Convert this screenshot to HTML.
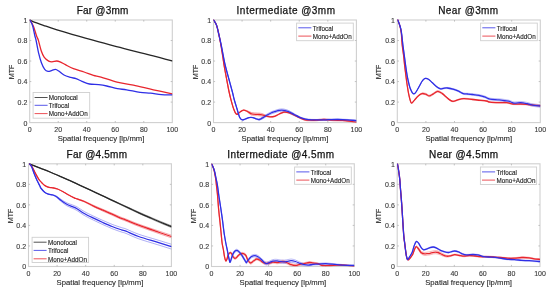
<!DOCTYPE html>
<html><head><meta charset="utf-8"><title>MTF</title>
<style>
html,body{margin:0;padding:0;background:#fff;width:550px;height:292px;overflow:hidden}
svg{display:block}
.tk{font-family:"Liberation Sans", Arial, sans-serif;font-size:7px;fill:#3a3a3a;stroke:#3a3a3a;stroke-width:0.12px}
.al{font-family:"Liberation Sans", Arial, sans-serif;font-size:7.7px;fill:#2a2a2a;stroke:#2a2a2a;stroke-width:0.12px}
.lg{font-family:"Liberation Sans", Arial, sans-serif;font-size:6.3px;fill:#1e1e1e;stroke:#1e1e1e;stroke-width:0.12px}
.ti{font-family:"Liberation Sans", Arial, sans-serif;font-size:10.0px;fill:#111;stroke:#111;stroke-width:0.25px}
</style></head><body>
<svg width="550" height="292" viewBox="0 0 550 292">
<rect width="550" height="292" fill="#fff"/>
<rect x="29.70" y="20.00" width="142.60" height="102.60" fill="none" stroke="#cfcfcf" stroke-width="1.1"/>
<line x1="58.22" y1="122.60" x2="58.22" y2="121.00" stroke="#b4b4b4" stroke-width="0.8"/>
<line x1="58.22" y1="20.00" x2="58.22" y2="21.60" stroke="#b4b4b4" stroke-width="0.8"/>
<line x1="29.70" y1="102.08" x2="31.30" y2="102.08" stroke="#b4b4b4" stroke-width="0.8"/>
<line x1="172.30" y1="102.08" x2="170.70" y2="102.08" stroke="#b4b4b4" stroke-width="0.8"/>
<line x1="86.74" y1="122.60" x2="86.74" y2="121.00" stroke="#b4b4b4" stroke-width="0.8"/>
<line x1="86.74" y1="20.00" x2="86.74" y2="21.60" stroke="#b4b4b4" stroke-width="0.8"/>
<line x1="29.70" y1="81.56" x2="31.30" y2="81.56" stroke="#b4b4b4" stroke-width="0.8"/>
<line x1="172.30" y1="81.56" x2="170.70" y2="81.56" stroke="#b4b4b4" stroke-width="0.8"/>
<line x1="115.26" y1="122.60" x2="115.26" y2="121.00" stroke="#b4b4b4" stroke-width="0.8"/>
<line x1="115.26" y1="20.00" x2="115.26" y2="21.60" stroke="#b4b4b4" stroke-width="0.8"/>
<line x1="29.70" y1="61.04" x2="31.30" y2="61.04" stroke="#b4b4b4" stroke-width="0.8"/>
<line x1="172.30" y1="61.04" x2="170.70" y2="61.04" stroke="#b4b4b4" stroke-width="0.8"/>
<line x1="143.78" y1="122.60" x2="143.78" y2="121.00" stroke="#b4b4b4" stroke-width="0.8"/>
<line x1="143.78" y1="20.00" x2="143.78" y2="21.60" stroke="#b4b4b4" stroke-width="0.8"/>
<line x1="29.70" y1="40.52" x2="31.30" y2="40.52" stroke="#b4b4b4" stroke-width="0.8"/>
<line x1="172.30" y1="40.52" x2="170.70" y2="40.52" stroke="#b4b4b4" stroke-width="0.8"/>
<text x="27.30" y="125.50" text-anchor="end" class="tk">0</text>
<text x="27.30" y="104.98" text-anchor="end" class="tk">0.2</text>
<text x="27.30" y="84.46" text-anchor="end" class="tk">0.4</text>
<text x="27.30" y="63.94" text-anchor="end" class="tk">0.6</text>
<text x="27.30" y="43.42" text-anchor="end" class="tk">0.8</text>
<text x="27.30" y="22.90" text-anchor="end" class="tk">1</text>
<text x="29.70" y="131.90" text-anchor="middle" class="tk">0</text>
<text x="58.22" y="131.90" text-anchor="middle" class="tk">20</text>
<text x="86.74" y="131.90" text-anchor="middle" class="tk">40</text>
<text x="115.26" y="131.90" text-anchor="middle" class="tk">60</text>
<text x="143.78" y="131.90" text-anchor="middle" class="tk">80</text>
<text x="172.30" y="131.90" text-anchor="middle" class="tk">100</text>
<text x="101.00" y="141.00" text-anchor="middle" class="al">Spatial frequency [lp/mm]</text>
<text transform="translate(13.70,72.00) rotate(-90)" x="0" y="0" text-anchor="middle" class="al" style="font-size:7.1px">MTF</text>
<text x="76.70" y="14.10" textLength="51.70" lengthAdjust="spacing" class="ti">Far @3mm</text>
<clipPath id="c1"><rect x="29.70" y="18.00" width="142.60" height="104.60"/></clipPath>
<g clip-path="url(#c1)" fill="none" stroke-linejoin="round" stroke-linecap="round">
<path d="M29.80,20.10 C30.17,20.26 31.13,20.71 32.00,21.08 C32.87,21.44 34.00,21.90 35.00,22.29 C36.00,22.68 36.83,23.00 38.00,23.42 C39.17,23.85 40.67,24.38 42.00,24.84 C43.33,25.30 44.50,25.71 46.00,26.21 C47.50,26.71 49.17,27.27 51.00,27.86 C52.83,28.45 54.83,29.09 57.00,29.76 C59.17,30.44 61.50,31.16 64.00,31.91 C66.50,32.66 69.00,33.41 72.00,34.29 C75.00,35.16 78.67,36.22 82.00,37.16 C85.33,38.10 88.83,39.08 92.00,39.95 C95.17,40.82 98.00,41.58 101.00,42.39 C104.00,43.20 106.83,43.95 110.00,44.79 C113.17,45.63 116.67,46.55 120.00,47.42 C123.33,48.29 126.67,49.15 130.00,50.01 C133.33,50.87 136.67,51.73 140.00,52.59 C143.33,53.45 146.67,54.30 150.00,55.15 C153.33,56.00 156.30,56.76 160.00,57.71 C163.70,58.66 170.17,60.34 172.20,60.86" stroke="#262626" stroke-width="1.3" opacity="1"/>
<path d="M29.80,20.10 C30.08,20.50 30.87,21.38 31.50,22.50 C32.13,23.62 32.75,24.55 33.60,26.80 C34.45,29.05 35.82,33.80 36.60,36.00 C37.38,38.20 37.53,37.55 38.30,40.00 C39.07,42.45 40.20,47.80 41.20,50.70 C42.20,53.60 43.05,55.67 44.30,57.40 C45.55,59.13 47.42,60.37 48.70,61.10 C49.98,61.83 50.67,61.82 52.00,61.80 C53.33,61.78 55.37,61.00 56.70,61.00 C58.03,61.00 58.55,61.18 60.00,61.80 C61.45,62.42 63.17,63.55 65.40,64.70 C67.63,65.85 70.28,67.48 73.40,68.70 C76.52,69.92 80.77,70.88 84.10,72.00 C87.43,73.12 90.58,74.55 93.40,75.40 C96.22,76.25 97.07,75.98 101.00,77.10 C104.93,78.22 111.60,80.75 117.00,82.10 C122.40,83.45 127.33,83.92 133.40,85.20 C139.47,86.48 146.93,88.37 153.40,89.80 C159.87,91.23 169.07,93.13 172.20,93.80" stroke="#e8262e" stroke-width="1.3" opacity="1"/>
<path d="M29.80,20.10 C30.05,20.50 30.78,21.38 31.30,22.50 C31.82,23.62 32.30,24.55 32.90,26.80 C33.50,29.05 34.38,33.80 34.90,36.00 C35.42,38.20 35.37,37.10 36.00,40.00 C36.63,42.90 37.80,49.62 38.70,53.40 C39.60,57.18 40.40,60.03 41.40,62.70 C42.40,65.37 43.60,67.95 44.70,69.40 C45.80,70.85 46.78,71.23 48.00,71.40 C49.22,71.57 50.77,70.73 52.00,70.40 C53.23,70.07 54.28,69.30 55.40,69.40 C56.52,69.50 57.27,70.07 58.70,71.00 C60.13,71.93 62.00,73.93 64.00,75.00 C66.00,76.07 68.70,76.78 70.70,77.40 C72.70,78.02 74.12,78.05 76.00,78.70 C77.88,79.35 79.77,80.42 82.00,81.30 C84.23,82.18 86.62,83.43 89.40,84.00 C92.18,84.57 95.82,84.37 98.70,84.70 C101.58,85.03 103.58,85.33 106.70,86.00 C109.82,86.67 114.07,88.07 117.40,88.70 C120.73,89.33 122.92,89.18 126.70,89.80 C130.48,90.42 136.10,91.83 140.10,92.40 C144.10,92.97 147.15,92.82 150.70,93.20 C154.25,93.58 157.82,94.42 161.40,94.70 C164.98,94.98 170.40,94.87 172.20,94.90" stroke="#2f2fe6" stroke-width="1.3" opacity="1"/>
</g>
<rect x="33.10" y="92.50" width="56.60" height="25.70" fill="#fff" stroke="#cfcfcf" stroke-width="0.9"/>
<line x1="34.60" y1="97.50" x2="47.60" y2="97.50" stroke="#262626" stroke-width="1.0" opacity="0.8"/>
<text x="48.70" y="100.20" class="lg">Monofocal</text>
<line x1="34.60" y1="105.30" x2="47.60" y2="105.30" stroke="#2f2fe6" stroke-width="1.0" opacity="0.8"/>
<text x="48.70" y="108.00" class="lg">Trifocal</text>
<line x1="34.60" y1="113.60" x2="47.60" y2="113.60" stroke="#e8262e" stroke-width="1.0" opacity="0.8"/>
<text x="48.70" y="116.30" class="lg">Mono+AddOn</text>
<rect x="213.50" y="20.00" width="142.90" height="102.60" fill="none" stroke="#cfcfcf" stroke-width="1.1"/>
<line x1="242.08" y1="122.60" x2="242.08" y2="121.00" stroke="#b4b4b4" stroke-width="0.8"/>
<line x1="242.08" y1="20.00" x2="242.08" y2="21.60" stroke="#b4b4b4" stroke-width="0.8"/>
<line x1="213.50" y1="102.08" x2="215.10" y2="102.08" stroke="#b4b4b4" stroke-width="0.8"/>
<line x1="356.40" y1="102.08" x2="354.80" y2="102.08" stroke="#b4b4b4" stroke-width="0.8"/>
<line x1="270.66" y1="122.60" x2="270.66" y2="121.00" stroke="#b4b4b4" stroke-width="0.8"/>
<line x1="270.66" y1="20.00" x2="270.66" y2="21.60" stroke="#b4b4b4" stroke-width="0.8"/>
<line x1="213.50" y1="81.56" x2="215.10" y2="81.56" stroke="#b4b4b4" stroke-width="0.8"/>
<line x1="356.40" y1="81.56" x2="354.80" y2="81.56" stroke="#b4b4b4" stroke-width="0.8"/>
<line x1="299.24" y1="122.60" x2="299.24" y2="121.00" stroke="#b4b4b4" stroke-width="0.8"/>
<line x1="299.24" y1="20.00" x2="299.24" y2="21.60" stroke="#b4b4b4" stroke-width="0.8"/>
<line x1="213.50" y1="61.04" x2="215.10" y2="61.04" stroke="#b4b4b4" stroke-width="0.8"/>
<line x1="356.40" y1="61.04" x2="354.80" y2="61.04" stroke="#b4b4b4" stroke-width="0.8"/>
<line x1="327.82" y1="122.60" x2="327.82" y2="121.00" stroke="#b4b4b4" stroke-width="0.8"/>
<line x1="327.82" y1="20.00" x2="327.82" y2="21.60" stroke="#b4b4b4" stroke-width="0.8"/>
<line x1="213.50" y1="40.52" x2="215.10" y2="40.52" stroke="#b4b4b4" stroke-width="0.8"/>
<line x1="356.40" y1="40.52" x2="354.80" y2="40.52" stroke="#b4b4b4" stroke-width="0.8"/>
<text x="211.10" y="125.50" text-anchor="end" class="tk">0</text>
<text x="211.10" y="104.98" text-anchor="end" class="tk">0.2</text>
<text x="211.10" y="84.46" text-anchor="end" class="tk">0.4</text>
<text x="211.10" y="63.94" text-anchor="end" class="tk">0.6</text>
<text x="211.10" y="43.42" text-anchor="end" class="tk">0.8</text>
<text x="211.10" y="22.90" text-anchor="end" class="tk">1</text>
<text x="213.50" y="131.90" text-anchor="middle" class="tk">0</text>
<text x="242.08" y="131.90" text-anchor="middle" class="tk">20</text>
<text x="270.66" y="131.90" text-anchor="middle" class="tk">40</text>
<text x="299.24" y="131.90" text-anchor="middle" class="tk">60</text>
<text x="327.82" y="131.90" text-anchor="middle" class="tk">80</text>
<text x="356.40" y="131.90" text-anchor="middle" class="tk">100</text>
<text x="284.95" y="141.00" text-anchor="middle" class="al">Spatial frequency [lp/mm]</text>
<text transform="translate(197.50,72.00) rotate(-90)" x="0" y="0" text-anchor="middle" class="al" style="font-size:7.1px">MTF</text>
<text x="236.60" y="14.10" textLength="98.40" lengthAdjust="spacing" class="ti">Intermediate @3mm</text>
<clipPath id="c2"><rect x="213.50" y="18.00" width="142.90" height="104.60"/></clipPath>
<g clip-path="url(#c2)" fill="none" stroke-linejoin="round" stroke-linecap="round">
<path d="M213.60,20.00 C214.10,20.90 215.72,22.95 216.60,25.40 C217.48,27.85 218.18,31.43 218.90,34.70 C219.62,37.97 220.27,41.45 220.90,45.00 C221.53,48.55 222.15,52.50 222.70,56.00 C223.25,59.50 223.55,62.17 224.20,66.00 C224.85,69.83 225.82,74.83 226.60,79.00 C227.38,83.17 228.17,87.53 228.90,91.00 C229.63,94.47 230.20,96.80 231.00,99.80 C231.80,102.80 232.83,106.63 233.70,109.00 C234.57,111.37 235.42,113.23 236.20,114.00 C236.98,114.77 237.77,113.93 238.40,113.60 C239.03,113.27 239.15,112.58 240.00,112.00 C240.85,111.42 242.28,110.30 243.50,110.10 C244.72,109.90 245.97,110.40 247.30,110.80 C248.63,111.20 249.80,112.12 251.50,112.50 C253.20,112.88 255.73,112.93 257.50,113.10 C259.27,113.27 260.57,113.09 262.10,113.52 C263.63,113.95 265.38,115.19 266.70,115.68 C268.02,116.18 268.68,116.45 270.00,116.50 C271.32,116.55 273.05,116.47 274.60,116.00 C276.15,115.53 277.75,114.40 279.30,113.70 C280.85,113.00 282.35,112.06 283.90,111.78 C285.45,111.51 286.90,111.61 288.60,112.04 C290.30,112.48 292.25,113.56 294.10,114.40 C295.95,115.24 297.83,116.28 299.70,117.10 C301.57,117.92 303.58,118.88 305.30,119.30 C307.02,119.72 308.15,119.55 310.00,119.60 C311.85,119.65 314.08,119.72 316.40,119.60 C318.72,119.48 321.10,118.90 323.90,118.90 C326.70,118.90 330.10,119.45 333.20,119.60 C336.30,119.75 339.87,119.65 342.50,119.80 C345.13,119.95 346.73,120.18 349.00,120.50 C351.27,120.82 354.92,121.50 356.10,121.70" stroke="#e8262e" stroke-width="0.8" opacity="0.5"/>
<path d="M213.60,20.00 C214.10,20.90 215.72,22.95 216.60,25.40 C217.48,27.85 218.18,31.43 218.90,34.70 C219.62,37.97 220.27,41.45 220.90,45.00 C221.53,48.55 222.15,52.50 222.70,56.00 C223.25,59.50 223.55,62.17 224.20,66.00 C224.85,69.83 225.82,74.83 226.60,79.00 C227.38,83.17 228.17,87.53 228.90,91.00 C229.63,94.47 230.20,96.80 231.00,99.80 C231.80,102.80 232.83,106.63 233.70,109.00 C234.57,111.37 235.42,113.23 236.20,114.00 C236.98,114.77 237.77,113.93 238.40,113.60 C239.03,113.27 239.15,112.58 240.00,112.00 C240.85,111.42 242.28,110.10 243.50,110.10 C244.72,110.10 245.97,111.16 247.30,112.00 C248.63,112.83 249.80,114.48 251.50,115.10 C253.20,115.72 255.73,115.54 257.50,115.70 C259.27,115.86 260.57,115.91 262.10,116.08 C263.63,116.25 265.38,116.55 266.70,116.72 C268.02,116.89 268.68,117.12 270.00,117.10 C271.32,117.08 273.05,117.07 274.60,116.60 C276.15,116.13 277.75,114.96 279.30,114.30 C280.85,113.64 282.35,112.81 283.90,112.62 C285.45,112.43 286.90,112.66 288.60,113.16 C290.30,113.66 292.25,114.74 294.10,115.60 C295.95,116.46 297.83,117.48 299.70,118.30 C301.57,119.12 303.58,120.08 305.30,120.50 C307.02,120.92 308.15,120.75 310.00,120.80 C311.85,120.85 314.08,120.92 316.40,120.80 C318.72,120.68 321.10,120.10 323.90,120.10 C326.70,120.10 330.10,120.65 333.20,120.80 C336.30,120.95 339.87,120.85 342.50,121.00 C345.13,121.15 346.73,121.38 349.00,121.70 C351.27,122.02 354.92,122.70 356.10,122.90" stroke="#e8262e" stroke-width="0.8" opacity="0.5"/>
<path d="M213.60,20.00 C214.10,20.90 215.72,22.95 216.60,25.40 C217.48,27.85 218.13,31.43 218.90,34.70 C219.67,37.97 220.47,41.45 221.20,45.00 C221.93,48.55 222.60,52.50 223.30,56.00 C224.00,59.50 224.45,62.08 225.40,66.00 C226.35,69.92 227.83,75.17 229.00,79.50 C230.17,83.83 231.53,88.67 232.40,92.00 C233.27,95.33 233.43,96.70 234.20,99.50 C234.97,102.30 236.10,105.85 237.00,108.80 C237.90,111.75 238.73,115.37 239.60,117.20 C240.47,119.03 241.23,119.50 242.20,119.80 C243.17,120.10 244.25,119.37 245.40,119.00 C246.55,118.63 247.87,117.83 249.10,117.60 C250.33,117.37 251.57,117.40 252.80,117.60 C254.03,117.80 255.42,118.57 256.50,118.79 C257.58,119.00 258.22,119.25 259.30,118.89 C260.38,118.52 261.77,117.36 263.00,116.59 C264.23,115.82 265.37,115.04 266.70,114.27 C268.03,113.49 269.68,112.55 271.00,111.94 C272.32,111.33 273.22,111.07 274.60,110.61 C275.98,110.15 277.75,109.42 279.30,109.18 C280.85,108.93 282.35,108.92 283.90,109.14 C285.45,109.37 286.90,109.77 288.60,110.51 C290.30,111.25 292.25,112.54 294.10,113.59 C295.95,114.63 297.83,115.94 299.70,116.78 C301.57,117.61 303.30,118.16 305.30,118.60 C307.30,119.04 309.08,119.27 311.70,119.40 C314.32,119.53 318.18,119.43 321.00,119.40 C323.82,119.37 325.80,119.27 328.60,119.20 C331.40,119.13 334.72,118.97 337.80,119.00 C340.88,119.03 344.05,119.22 347.10,119.40 C350.15,119.58 354.60,119.98 356.10,120.10" stroke="#2f2fe6" stroke-width="0.8" opacity="0.5"/>
<path d="M213.60,20.00 C214.10,20.90 215.72,22.95 216.60,25.40 C217.48,27.85 218.13,31.43 218.90,34.70 C219.67,37.97 220.47,41.45 221.20,45.00 C221.93,48.55 222.60,52.50 223.30,56.00 C224.00,59.50 224.45,62.08 225.40,66.00 C226.35,69.92 227.83,75.17 229.00,79.50 C230.17,83.83 231.53,88.67 232.40,92.00 C233.27,95.33 233.43,96.70 234.20,99.50 C234.97,102.30 236.10,105.85 237.00,108.80 C237.90,111.75 238.73,115.37 239.60,117.20 C240.47,119.03 241.23,119.50 242.20,119.80 C243.17,120.10 244.25,119.37 245.40,119.00 C246.55,118.63 247.87,117.83 249.10,117.60 C250.33,117.37 251.57,117.33 252.80,117.60 C254.03,117.87 255.42,118.80 256.50,119.21 C257.58,119.63 258.22,120.22 259.30,120.11 C260.38,120.01 261.77,119.24 263.00,118.61 C264.23,117.98 265.37,117.09 266.70,116.33 C268.03,115.58 269.68,114.65 271.00,114.06 C272.32,113.47 273.22,113.23 274.60,112.79 C275.98,112.35 277.75,111.65 279.30,111.42 C280.85,111.20 282.35,111.21 283.90,111.46 C285.45,111.70 286.90,112.23 288.60,112.89 C290.30,113.55 292.25,114.59 294.10,115.41 C295.95,116.23 297.83,117.12 299.70,117.82 C301.57,118.52 303.30,119.17 305.30,119.60 C307.30,120.03 309.08,120.27 311.70,120.40 C314.32,120.53 318.18,120.43 321.00,120.40 C323.82,120.37 325.80,120.27 328.60,120.20 C331.40,120.13 334.72,119.97 337.80,120.00 C340.88,120.03 344.05,120.22 347.10,120.40 C350.15,120.58 354.60,120.98 356.10,121.10" stroke="#2f2fe6" stroke-width="0.8" opacity="0.5"/>
<path d="M213.60,20.00 C214.10,20.90 215.72,22.95 216.60,25.40 C217.48,27.85 218.18,31.43 218.90,34.70 C219.62,37.97 220.27,41.45 220.90,45.00 C221.53,48.55 222.15,52.50 222.70,56.00 C223.25,59.50 223.55,62.17 224.20,66.00 C224.85,69.83 225.82,74.83 226.60,79.00 C227.38,83.17 228.17,87.53 228.90,91.00 C229.63,94.47 230.20,96.80 231.00,99.80 C231.80,102.80 232.83,106.63 233.70,109.00 C234.57,111.37 235.42,113.23 236.20,114.00 C236.98,114.77 237.77,113.93 238.40,113.60 C239.03,113.27 239.15,112.58 240.00,112.00 C240.85,111.42 242.28,110.20 243.50,110.10 C244.72,110.00 245.97,110.78 247.30,111.40 C248.63,112.02 249.80,113.30 251.50,113.80 C253.20,114.30 255.73,114.23 257.50,114.40 C259.27,114.57 260.57,114.50 262.10,114.80 C263.63,115.10 265.38,115.87 266.70,116.20 C268.02,116.53 268.68,116.78 270.00,116.80 C271.32,116.82 273.05,116.77 274.60,116.30 C276.15,115.83 277.75,114.68 279.30,114.00 C280.85,113.32 282.35,112.43 283.90,112.20 C285.45,111.97 286.90,112.13 288.60,112.60 C290.30,113.07 292.25,114.15 294.10,115.00 C295.95,115.85 297.83,116.88 299.70,117.70 C301.57,118.52 303.58,119.48 305.30,119.90 C307.02,120.32 308.15,120.15 310.00,120.20 C311.85,120.25 314.08,120.32 316.40,120.20 C318.72,120.08 321.10,119.50 323.90,119.50 C326.70,119.50 330.10,120.05 333.20,120.20 C336.30,120.35 339.87,120.25 342.50,120.40 C345.13,120.55 346.73,120.78 349.00,121.10 C351.27,121.42 354.92,122.10 356.10,122.30" stroke="#e8262e" stroke-width="1.3" opacity="1"/>
<path d="M213.60,20.00 C214.10,20.90 215.72,22.95 216.60,25.40 C217.48,27.85 218.13,31.43 218.90,34.70 C219.67,37.97 220.47,41.45 221.20,45.00 C221.93,48.55 222.60,52.50 223.30,56.00 C224.00,59.50 224.45,62.08 225.40,66.00 C226.35,69.92 227.83,75.17 229.00,79.50 C230.17,83.83 231.53,88.67 232.40,92.00 C233.27,95.33 233.43,96.70 234.20,99.50 C234.97,102.30 236.10,105.85 237.00,108.80 C237.90,111.75 238.73,115.37 239.60,117.20 C240.47,119.03 241.23,119.50 242.20,119.80 C243.17,120.10 244.25,119.37 245.40,119.00 C246.55,118.63 247.87,117.83 249.10,117.60 C250.33,117.37 251.57,117.37 252.80,117.60 C254.03,117.83 255.42,118.68 256.50,119.00 C257.58,119.32 258.22,119.73 259.30,119.50 C260.38,119.27 261.77,118.30 263.00,117.60 C264.23,116.90 265.37,116.07 266.70,115.30 C268.03,114.53 269.68,113.60 271.00,113.00 C272.32,112.40 273.22,112.15 274.60,111.70 C275.98,111.25 277.75,110.53 279.30,110.30 C280.85,110.07 282.35,110.07 283.90,110.30 C285.45,110.53 286.90,111.00 288.60,111.70 C290.30,112.40 292.25,113.57 294.10,114.50 C295.95,115.43 297.83,116.53 299.70,117.30 C301.57,118.07 303.30,118.67 305.30,119.10 C307.30,119.53 309.08,119.77 311.70,119.90 C314.32,120.03 318.18,119.93 321.00,119.90 C323.82,119.87 325.80,119.77 328.60,119.70 C331.40,119.63 334.72,119.47 337.80,119.50 C340.88,119.53 344.05,119.72 347.10,119.90 C350.15,120.08 354.60,120.48 356.10,120.60" stroke="#2f2fe6" stroke-width="1.3" opacity="1"/>
</g>
<rect x="296.60" y="23.10" width="56.70" height="17.60" fill="#fff" stroke="#cfcfcf" stroke-width="0.9"/>
<line x1="298.30" y1="27.80" x2="311.40" y2="27.80" stroke="#2f2fe6" stroke-width="1.0" opacity="0.8"/>
<text x="312.70" y="30.50" class="lg">Trifocal</text>
<line x1="298.30" y1="36.10" x2="311.40" y2="36.10" stroke="#e8262e" stroke-width="1.0" opacity="0.8"/>
<text x="312.70" y="38.80" class="lg">Mono+AddOn</text>
<rect x="397.30" y="20.00" width="143.00" height="102.60" fill="none" stroke="#cfcfcf" stroke-width="1.1"/>
<line x1="425.90" y1="122.60" x2="425.90" y2="121.00" stroke="#b4b4b4" stroke-width="0.8"/>
<line x1="425.90" y1="20.00" x2="425.90" y2="21.60" stroke="#b4b4b4" stroke-width="0.8"/>
<line x1="397.30" y1="102.08" x2="398.90" y2="102.08" stroke="#b4b4b4" stroke-width="0.8"/>
<line x1="540.30" y1="102.08" x2="538.70" y2="102.08" stroke="#b4b4b4" stroke-width="0.8"/>
<line x1="454.50" y1="122.60" x2="454.50" y2="121.00" stroke="#b4b4b4" stroke-width="0.8"/>
<line x1="454.50" y1="20.00" x2="454.50" y2="21.60" stroke="#b4b4b4" stroke-width="0.8"/>
<line x1="397.30" y1="81.56" x2="398.90" y2="81.56" stroke="#b4b4b4" stroke-width="0.8"/>
<line x1="540.30" y1="81.56" x2="538.70" y2="81.56" stroke="#b4b4b4" stroke-width="0.8"/>
<line x1="483.10" y1="122.60" x2="483.10" y2="121.00" stroke="#b4b4b4" stroke-width="0.8"/>
<line x1="483.10" y1="20.00" x2="483.10" y2="21.60" stroke="#b4b4b4" stroke-width="0.8"/>
<line x1="397.30" y1="61.04" x2="398.90" y2="61.04" stroke="#b4b4b4" stroke-width="0.8"/>
<line x1="540.30" y1="61.04" x2="538.70" y2="61.04" stroke="#b4b4b4" stroke-width="0.8"/>
<line x1="511.70" y1="122.60" x2="511.70" y2="121.00" stroke="#b4b4b4" stroke-width="0.8"/>
<line x1="511.70" y1="20.00" x2="511.70" y2="21.60" stroke="#b4b4b4" stroke-width="0.8"/>
<line x1="397.30" y1="40.52" x2="398.90" y2="40.52" stroke="#b4b4b4" stroke-width="0.8"/>
<line x1="540.30" y1="40.52" x2="538.70" y2="40.52" stroke="#b4b4b4" stroke-width="0.8"/>
<text x="394.90" y="125.50" text-anchor="end" class="tk">0</text>
<text x="394.90" y="104.98" text-anchor="end" class="tk">0.2</text>
<text x="394.90" y="84.46" text-anchor="end" class="tk">0.4</text>
<text x="394.90" y="63.94" text-anchor="end" class="tk">0.6</text>
<text x="394.90" y="43.42" text-anchor="end" class="tk">0.8</text>
<text x="394.90" y="22.90" text-anchor="end" class="tk">1</text>
<text x="397.30" y="131.90" text-anchor="middle" class="tk">0</text>
<text x="425.90" y="131.90" text-anchor="middle" class="tk">20</text>
<text x="454.50" y="131.90" text-anchor="middle" class="tk">40</text>
<text x="483.10" y="131.90" text-anchor="middle" class="tk">60</text>
<text x="511.70" y="131.90" text-anchor="middle" class="tk">80</text>
<text x="540.30" y="131.90" text-anchor="middle" class="tk">100</text>
<text x="468.80" y="141.00" text-anchor="middle" class="al">Spatial frequency [lp/mm]</text>
<text transform="translate(381.30,72.00) rotate(-90)" x="0" y="0" text-anchor="middle" class="al" style="font-size:7.1px">MTF</text>
<text x="438.20" y="14.20" textLength="60.00" lengthAdjust="spacing" class="ti">Near @3mm</text>
<clipPath id="c3"><rect x="397.30" y="18.00" width="143.00" height="104.60"/></clipPath>
<g clip-path="url(#c3)" fill="none" stroke-linejoin="round" stroke-linecap="round">
<path d="M397.80,20.00 C398.17,21.05 399.42,24.17 400.00,26.30 C400.58,28.43 400.93,29.68 401.30,32.80 C401.67,35.92 401.82,41.22 402.20,45.00 C402.58,48.78 403.18,52.00 403.60,55.50 C404.02,59.00 404.28,62.40 404.70,66.00 C405.12,69.60 405.72,74.10 406.10,77.10 C406.48,80.10 406.60,81.33 407.00,84.00 C407.40,86.67 407.95,90.33 408.50,93.10 C409.05,95.87 409.77,98.92 410.30,100.60 C410.83,102.28 411.00,103.28 411.70,103.20 C412.40,103.12 413.42,101.36 414.50,100.10 C415.58,98.84 416.97,96.82 418.20,95.64 C419.43,94.47 420.67,93.44 421.90,93.05 C423.13,92.66 424.37,92.96 425.60,93.30 C426.83,93.64 428.07,95.10 429.30,95.10 C430.53,95.10 431.60,94.07 433.00,93.30 C434.40,92.53 436.15,90.57 437.70,90.50 C439.25,90.43 440.92,91.94 442.30,92.89 C443.68,93.85 444.83,95.19 446.00,96.24 C447.17,97.29 448.13,98.38 449.30,99.17 C450.47,99.96 451.45,100.99 453.00,100.99 C454.55,101.00 456.90,99.64 458.60,99.18 C460.30,98.73 461.67,98.39 463.20,98.27 C464.73,98.15 465.48,98.25 467.80,98.46 C470.12,98.68 474.00,99.20 477.10,99.55 C480.20,99.89 484.25,100.18 486.40,100.53 C488.55,100.87 487.85,101.36 490.00,101.62 C492.15,101.88 496.52,102.03 499.30,102.10 C502.08,102.17 504.38,101.83 506.70,102.05 C509.02,102.27 510.88,103.19 513.20,103.40 C515.52,103.62 518.28,103.31 520.60,103.35 C522.92,103.38 524.93,103.41 527.10,103.60 C529.27,103.78 531.42,104.25 533.60,104.45 C535.78,104.65 539.10,104.74 540.20,104.80" stroke="#e8262e" stroke-width="0.7" opacity="0.45"/>
<path d="M397.80,20.00 C398.17,21.05 399.42,24.17 400.00,26.30 C400.58,28.43 400.93,29.68 401.30,32.80 C401.67,35.92 401.82,41.22 402.20,45.00 C402.58,48.78 403.18,52.00 403.60,55.50 C404.02,59.00 404.28,62.40 404.70,66.00 C405.12,69.60 405.72,74.10 406.10,77.10 C406.48,80.10 406.60,81.33 407.00,84.00 C407.40,86.67 407.95,90.33 408.50,93.10 C409.05,95.87 409.77,98.92 410.30,100.60 C410.83,102.28 411.00,103.28 411.70,103.20 C412.40,103.12 413.42,101.27 414.50,100.10 C415.58,98.93 416.97,97.15 418.20,96.16 C419.43,95.16 420.67,94.36 421.90,94.15 C423.13,93.94 424.37,94.48 425.60,94.90 C426.83,95.32 428.07,96.70 429.30,96.70 C430.53,96.70 431.60,95.67 433.00,94.90 C434.40,94.13 436.15,92.20 437.70,92.10 C439.25,92.00 440.92,93.43 442.30,94.31 C443.68,95.18 444.83,96.41 446.00,97.36 C447.17,98.31 448.13,99.29 449.30,100.03 C450.47,100.77 451.45,101.81 453.00,101.81 C454.55,101.80 456.90,100.46 458.60,100.02 C460.30,99.57 461.67,99.24 463.20,99.13 C464.73,99.01 465.48,99.11 467.80,99.34 C470.12,99.56 474.00,100.10 477.10,100.45 C480.20,100.81 484.25,101.12 486.40,101.47 C488.55,101.83 487.85,102.31 490.00,102.58 C492.15,102.85 496.52,103.00 499.30,103.10 C502.08,103.19 504.38,102.90 506.70,103.15 C509.02,103.40 510.88,104.35 513.20,104.60 C515.52,104.85 518.28,104.59 520.60,104.65 C522.92,104.72 524.93,104.79 527.10,105.00 C529.27,105.22 531.42,105.72 533.60,105.95 C535.78,106.18 539.10,106.33 540.20,106.40" stroke="#e8262e" stroke-width="0.7" opacity="0.45"/>
<path d="M397.80,20.00 C398.18,21.05 399.48,24.17 400.10,26.30 C400.72,28.43 401.03,29.68 401.50,32.80 C401.97,35.92 402.43,41.22 402.90,45.00 C403.37,48.78 403.83,52.00 404.30,55.50 C404.77,59.00 405.23,62.70 405.70,66.00 C406.17,69.30 406.60,72.47 407.10,75.30 C407.60,78.13 408.23,80.97 408.70,83.00 C409.17,85.03 409.48,86.23 409.90,87.50 C410.32,88.77 410.78,89.72 411.20,90.60 C411.62,91.48 411.97,92.27 412.40,92.80 C412.83,93.33 413.30,93.80 413.80,93.80 C414.30,93.80 414.78,93.52 415.40,92.80 C416.02,92.08 416.65,90.97 417.50,89.50 C418.35,88.03 419.77,85.33 420.50,83.99 C421.23,82.65 421.40,82.23 421.90,81.45 C422.40,80.67 422.88,79.86 423.50,79.31 C424.12,78.76 424.78,78.21 425.60,78.16 C426.42,78.11 427.32,78.32 428.40,78.99 C429.48,79.66 430.72,80.97 432.10,82.20 C433.48,83.43 435.30,85.37 436.70,86.38 C438.10,87.40 439.37,88.06 440.50,88.30 C441.63,88.53 442.35,87.92 443.50,87.77 C444.65,87.63 445.67,87.27 447.40,87.44 C449.13,87.61 452.03,88.28 453.90,88.80 C455.77,89.32 457.05,89.87 458.60,90.56 C460.15,91.25 461.67,92.47 463.20,92.93 C464.73,93.38 466.25,93.15 467.80,93.29 C469.35,93.43 470.63,93.54 472.50,93.76 C474.37,93.98 477.00,94.24 479.00,94.61 C481.00,94.97 482.67,95.36 484.50,95.95 C486.33,96.55 487.53,97.72 490.00,98.20 C492.47,98.68 496.20,98.48 499.30,98.81 C502.40,99.13 506.13,99.60 508.60,100.14 C511.07,100.67 512.10,101.78 514.10,101.99 C516.10,102.21 518.43,101.38 520.60,101.45 C522.77,101.51 525.25,102.03 527.10,102.40 C528.95,102.77 529.52,103.28 531.70,103.66 C533.88,104.05 538.78,104.53 540.20,104.70" stroke="#2f2fe6" stroke-width="0.7" opacity="0.45"/>
<path d="M397.80,20.00 C398.18,21.05 399.48,24.17 400.10,26.30 C400.72,28.43 401.03,29.68 401.50,32.80 C401.97,35.92 402.43,41.22 402.90,45.00 C403.37,48.78 403.83,52.00 404.30,55.50 C404.77,59.00 405.23,62.70 405.70,66.00 C406.17,69.30 406.60,72.47 407.10,75.30 C407.60,78.13 408.23,80.97 408.70,83.00 C409.17,85.03 409.48,86.23 409.90,87.50 C410.32,88.77 410.78,89.72 411.20,90.60 C411.62,91.48 411.97,92.27 412.40,92.80 C412.83,93.33 413.30,93.80 413.80,93.80 C414.30,93.80 414.78,93.52 415.40,92.80 C416.02,92.08 416.65,90.96 417.50,89.50 C418.35,88.04 419.77,85.34 420.50,84.01 C421.23,82.69 421.40,82.30 421.90,81.55 C422.40,80.79 422.88,80.01 423.50,79.49 C424.12,78.97 424.78,78.45 425.60,78.44 C426.42,78.43 427.32,78.68 428.40,79.41 C429.48,80.14 430.72,81.50 432.10,82.80 C433.48,84.10 435.30,86.13 436.70,87.22 C438.10,88.30 439.37,89.04 440.50,89.30 C441.63,89.57 442.35,88.95 443.50,88.83 C444.65,88.70 445.67,88.36 447.40,88.56 C449.13,88.75 452.03,89.46 453.90,90.00 C455.77,90.55 457.05,91.13 458.60,91.84 C460.15,92.55 461.67,93.80 463.20,94.27 C464.73,94.75 466.25,94.55 467.80,94.71 C469.35,94.87 470.63,95.00 472.50,95.24 C474.37,95.49 477.00,95.79 479.00,96.19 C481.00,96.59 482.67,97.01 484.50,97.64 C486.33,98.28 487.53,99.48 490.00,100.00 C492.47,100.52 496.20,100.42 499.30,100.79 C502.40,101.17 506.13,101.70 508.60,102.26 C511.07,102.83 512.10,103.96 514.10,104.21 C516.10,104.45 518.43,103.65 520.60,103.75 C522.77,103.85 525.25,104.41 527.10,104.80 C528.95,105.20 529.52,105.72 531.70,106.14 C533.88,106.55 538.78,107.11 540.20,107.30" stroke="#2f2fe6" stroke-width="0.7" opacity="0.45"/>
<path d="M397.80,20.00 C398.17,21.05 399.42,24.17 400.00,26.30 C400.58,28.43 400.93,29.68 401.30,32.80 C401.67,35.92 401.82,41.22 402.20,45.00 C402.58,48.78 403.18,52.00 403.60,55.50 C404.02,59.00 404.28,62.40 404.70,66.00 C405.12,69.60 405.72,74.10 406.10,77.10 C406.48,80.10 406.60,81.33 407.00,84.00 C407.40,86.67 407.95,90.33 408.50,93.10 C409.05,95.87 409.77,98.92 410.30,100.60 C410.83,102.28 411.00,103.28 411.70,103.20 C412.40,103.12 413.42,101.32 414.50,100.10 C415.58,98.88 416.97,96.98 418.20,95.90 C419.43,94.82 420.67,93.90 421.90,93.60 C423.13,93.30 424.37,93.72 425.60,94.10 C426.83,94.48 428.07,95.90 429.30,95.90 C430.53,95.90 431.60,94.87 433.00,94.10 C434.40,93.33 436.15,91.38 437.70,91.30 C439.25,91.22 440.92,92.68 442.30,93.60 C443.68,94.52 444.83,95.80 446.00,96.80 C447.17,97.80 448.13,98.83 449.30,99.60 C450.47,100.37 451.45,101.40 453.00,101.40 C454.55,101.40 456.90,100.05 458.60,99.60 C460.30,99.15 461.67,98.82 463.20,98.70 C464.73,98.58 465.48,98.68 467.80,98.90 C470.12,99.12 474.00,99.65 477.10,100.00 C480.20,100.35 484.25,100.65 486.40,101.00 C488.55,101.35 487.85,101.83 490.00,102.10 C492.15,102.37 496.52,102.52 499.30,102.60 C502.08,102.68 504.38,102.37 506.70,102.60 C509.02,102.83 510.88,103.77 513.20,104.00 C515.52,104.23 518.28,103.95 520.60,104.00 C522.92,104.05 524.93,104.10 527.10,104.30 C529.27,104.50 531.42,104.98 533.60,105.20 C535.78,105.42 539.10,105.53 540.20,105.60" stroke="#e8262e" stroke-width="1.3" opacity="1"/>
<path d="M397.80,20.00 C398.18,21.05 399.48,24.17 400.10,26.30 C400.72,28.43 401.03,29.68 401.50,32.80 C401.97,35.92 402.43,41.22 402.90,45.00 C403.37,48.78 403.83,52.00 404.30,55.50 C404.77,59.00 405.23,62.70 405.70,66.00 C406.17,69.30 406.60,72.47 407.10,75.30 C407.60,78.13 408.23,80.97 408.70,83.00 C409.17,85.03 409.48,86.23 409.90,87.50 C410.32,88.77 410.78,89.72 411.20,90.60 C411.62,91.48 411.97,92.27 412.40,92.80 C412.83,93.33 413.30,93.80 413.80,93.80 C414.30,93.80 414.78,93.52 415.40,92.80 C416.02,92.08 416.65,90.97 417.50,89.50 C418.35,88.03 419.77,85.33 420.50,84.00 C421.23,82.67 421.40,82.27 421.90,81.50 C422.40,80.73 422.88,79.93 423.50,79.40 C424.12,78.87 424.78,78.33 425.60,78.30 C426.42,78.27 427.32,78.50 428.40,79.20 C429.48,79.90 430.72,81.23 432.10,82.50 C433.48,83.77 435.30,85.75 436.70,86.80 C438.10,87.85 439.37,88.55 440.50,88.80 C441.63,89.05 442.35,88.43 443.50,88.30 C444.65,88.17 445.67,87.82 447.40,88.00 C449.13,88.18 452.03,88.87 453.90,89.40 C455.77,89.93 457.05,90.50 458.60,91.20 C460.15,91.90 461.67,93.13 463.20,93.60 C464.73,94.07 466.25,93.85 467.80,94.00 C469.35,94.15 470.63,94.27 472.50,94.50 C474.37,94.73 477.00,95.02 479.00,95.40 C481.00,95.78 482.67,96.18 484.50,96.80 C486.33,97.42 487.53,98.60 490.00,99.10 C492.47,99.60 496.20,99.45 499.30,99.80 C502.40,100.15 506.13,100.65 508.60,101.20 C511.07,101.75 512.10,102.87 514.10,103.10 C516.10,103.33 518.43,102.52 520.60,102.60 C522.77,102.68 525.25,103.22 527.10,103.60 C528.95,103.98 529.52,104.50 531.70,104.90 C533.88,105.30 538.78,105.82 540.20,106.00" stroke="#2f2fe6" stroke-width="1.3" opacity="1"/>
</g>
<rect x="480.60" y="23.10" width="56.70" height="17.60" fill="#fff" stroke="#cfcfcf" stroke-width="0.9"/>
<line x1="482.30" y1="27.80" x2="495.40" y2="27.80" stroke="#2f2fe6" stroke-width="1.0" opacity="0.8"/>
<text x="496.70" y="30.50" class="lg">Trifocal</text>
<line x1="482.30" y1="36.10" x2="495.40" y2="36.10" stroke="#e8262e" stroke-width="1.0" opacity="0.8"/>
<text x="496.70" y="38.80" class="lg">Mono+AddOn</text>
<rect x="28.50" y="163.80" width="142.90" height="102.70" fill="none" stroke="#cfcfcf" stroke-width="1.1"/>
<line x1="57.08" y1="266.50" x2="57.08" y2="264.90" stroke="#b4b4b4" stroke-width="0.8"/>
<line x1="57.08" y1="163.80" x2="57.08" y2="165.40" stroke="#b4b4b4" stroke-width="0.8"/>
<line x1="28.50" y1="245.96" x2="30.10" y2="245.96" stroke="#b4b4b4" stroke-width="0.8"/>
<line x1="171.40" y1="245.96" x2="169.80" y2="245.96" stroke="#b4b4b4" stroke-width="0.8"/>
<line x1="85.66" y1="266.50" x2="85.66" y2="264.90" stroke="#b4b4b4" stroke-width="0.8"/>
<line x1="85.66" y1="163.80" x2="85.66" y2="165.40" stroke="#b4b4b4" stroke-width="0.8"/>
<line x1="28.50" y1="225.42" x2="30.10" y2="225.42" stroke="#b4b4b4" stroke-width="0.8"/>
<line x1="171.40" y1="225.42" x2="169.80" y2="225.42" stroke="#b4b4b4" stroke-width="0.8"/>
<line x1="114.24" y1="266.50" x2="114.24" y2="264.90" stroke="#b4b4b4" stroke-width="0.8"/>
<line x1="114.24" y1="163.80" x2="114.24" y2="165.40" stroke="#b4b4b4" stroke-width="0.8"/>
<line x1="28.50" y1="204.88" x2="30.10" y2="204.88" stroke="#b4b4b4" stroke-width="0.8"/>
<line x1="171.40" y1="204.88" x2="169.80" y2="204.88" stroke="#b4b4b4" stroke-width="0.8"/>
<line x1="142.82" y1="266.50" x2="142.82" y2="264.90" stroke="#b4b4b4" stroke-width="0.8"/>
<line x1="142.82" y1="163.80" x2="142.82" y2="165.40" stroke="#b4b4b4" stroke-width="0.8"/>
<line x1="28.50" y1="184.34" x2="30.10" y2="184.34" stroke="#b4b4b4" stroke-width="0.8"/>
<line x1="171.40" y1="184.34" x2="169.80" y2="184.34" stroke="#b4b4b4" stroke-width="0.8"/>
<text x="26.10" y="269.40" text-anchor="end" class="tk">0</text>
<text x="26.10" y="248.86" text-anchor="end" class="tk">0.2</text>
<text x="26.10" y="228.32" text-anchor="end" class="tk">0.4</text>
<text x="26.10" y="207.78" text-anchor="end" class="tk">0.6</text>
<text x="26.10" y="187.24" text-anchor="end" class="tk">0.8</text>
<text x="26.10" y="166.70" text-anchor="end" class="tk">1</text>
<text x="28.50" y="275.80" text-anchor="middle" class="tk">0</text>
<text x="57.08" y="275.80" text-anchor="middle" class="tk">20</text>
<text x="85.66" y="275.80" text-anchor="middle" class="tk">40</text>
<text x="114.24" y="275.80" text-anchor="middle" class="tk">60</text>
<text x="142.82" y="275.80" text-anchor="middle" class="tk">80</text>
<text x="171.40" y="275.80" text-anchor="middle" class="tk">100</text>
<text x="99.95" y="284.90" text-anchor="middle" class="al">Spatial frequency [lp/mm]</text>
<text transform="translate(12.50,215.85) rotate(-90)" x="0" y="0" text-anchor="middle" class="al" style="font-size:7.1px">MTF</text>
<text x="66.60" y="157.60" textLength="60.40" lengthAdjust="spacing" class="ti">Far @4.5mm</text>
<clipPath id="c4"><rect x="28.50" y="161.80" width="142.90" height="104.70"/></clipPath>
<g clip-path="url(#c4)" fill="none" stroke-linejoin="round" stroke-linecap="round">
<path d="M29.70,164.10 C30.58,164.43 32.95,165.32 35.00,166.10 C37.05,166.88 39.50,167.82 42.00,168.80 C44.50,169.78 47.00,170.75 50.00,172.00 C53.00,173.25 56.67,174.85 60.00,176.30 C63.33,177.75 66.67,179.20 70.00,180.70 C73.33,182.20 76.67,183.77 80.00,185.30 C83.33,186.83 86.67,188.38 90.00,189.90 C93.33,191.43 96.67,192.93 100.00,194.45 C103.33,195.97 106.67,197.48 110.00,199.00 C113.33,200.52 116.67,202.03 120.00,203.55 C123.33,205.07 126.67,206.59 130.00,208.10 C133.33,209.61 136.67,211.15 140.00,212.63 C143.33,214.10 146.67,215.53 150.00,216.95 C153.33,218.38 156.45,219.72 160.00,221.18 C163.55,222.64 169.42,224.95 171.30,225.70" stroke="#262626" stroke-width="0.8" opacity="0.5"/>
<path d="M29.70,164.10 C30.58,164.43 32.95,165.32 35.00,166.10 C37.05,166.88 39.50,167.82 42.00,168.80 C44.50,169.78 47.00,170.75 50.00,172.00 C53.00,173.25 56.67,174.85 60.00,176.30 C63.33,177.75 66.67,179.20 70.00,180.70 C73.33,182.20 76.67,183.77 80.00,185.30 C83.33,186.83 86.67,188.33 90.00,189.90 C93.33,191.47 96.67,193.13 100.00,194.75 C103.33,196.37 106.67,197.98 110.00,199.60 C113.33,201.22 116.67,202.83 120.00,204.45 C123.33,206.07 126.67,207.71 130.00,209.30 C133.33,210.89 136.67,212.45 140.00,213.97 C143.33,215.50 146.67,216.97 150.00,218.45 C153.33,219.92 156.45,221.31 160.00,222.82 C163.55,224.33 169.42,226.72 171.30,227.50" stroke="#262626" stroke-width="0.8" opacity="0.5"/>
<path d="M29.70,164.10 C30.17,164.67 31.57,166.00 32.50,167.50 C33.43,169.00 34.22,171.08 35.30,173.10 C36.38,175.12 38.00,178.08 39.00,179.60 C40.00,181.12 40.68,181.52 41.30,182.20 C41.92,182.88 42.15,183.17 42.70,183.70 C43.25,184.23 43.98,184.95 44.60,185.40 C45.22,185.85 45.63,186.07 46.40,186.40 C47.17,186.73 47.97,187.13 49.20,187.40 C50.43,187.67 52.42,187.73 53.80,188.00 C55.18,188.27 55.95,188.38 57.50,189.00 C59.05,189.62 61.23,190.70 63.10,191.70 C64.97,192.70 66.85,194.00 68.70,195.00 C70.55,196.00 72.82,197.06 74.20,197.67 C75.58,198.29 75.32,198.12 77.00,198.69 C78.68,199.26 81.53,199.95 84.30,201.07 C87.07,202.19 90.52,204.02 93.60,205.39 C96.68,206.76 99.72,207.98 102.80,209.28 C105.88,210.59 109.23,211.98 112.10,213.23 C114.97,214.48 117.68,215.82 120.00,216.79 C122.32,217.76 122.90,217.84 126.00,219.05 C129.10,220.27 133.42,222.18 138.60,224.08 C143.78,225.99 151.65,228.63 157.10,230.48 C162.55,232.33 168.93,234.41 171.30,235.20" stroke="#e8262e" stroke-width="0.9" opacity="0.45"/>
<path d="M29.70,164.10 C30.17,164.67 31.57,166.00 32.50,167.50 C33.43,169.00 34.22,171.08 35.30,173.10 C36.38,175.12 38.00,178.08 39.00,179.60 C40.00,181.12 40.68,181.52 41.30,182.20 C41.92,182.88 42.15,183.17 42.70,183.70 C43.25,184.23 43.98,184.95 44.60,185.40 C45.22,185.85 45.63,186.07 46.40,186.40 C47.17,186.73 47.97,187.13 49.20,187.40 C50.43,187.67 52.42,187.73 53.80,188.00 C55.18,188.27 55.95,188.38 57.50,189.00 C59.05,189.62 61.23,190.70 63.10,191.70 C64.97,192.70 66.85,193.96 68.70,195.00 C70.55,196.04 72.82,197.24 74.20,197.93 C75.58,198.61 75.32,198.44 77.00,199.11 C78.68,199.78 81.53,200.65 84.30,201.93 C87.07,203.21 90.52,205.28 93.60,206.81 C96.68,208.34 99.72,209.72 102.80,211.12 C105.88,212.51 109.23,213.89 112.10,215.17 C114.97,216.45 117.68,217.82 120.00,218.81 C122.32,219.81 122.90,219.90 126.00,221.15 C129.10,222.40 133.42,224.35 138.60,226.32 C143.78,228.28 151.65,231.01 157.10,232.92 C162.55,234.84 168.93,236.99 171.30,237.80" stroke="#e8262e" stroke-width="0.9" opacity="0.45"/>
<path d="M29.70,164.10 C30.02,164.52 30.83,164.95 31.60,166.60 C32.37,168.25 33.38,171.68 34.30,174.00 C35.22,176.32 36.17,178.50 37.10,180.50 C38.03,182.50 39.28,184.75 39.90,186.00 C40.52,187.25 40.02,186.97 40.80,188.00 C41.58,189.03 43.35,191.18 44.60,192.20 C45.85,193.22 46.92,193.68 48.30,194.10 C49.68,194.52 51.52,194.38 52.90,194.73 C54.28,195.08 55.20,195.38 56.60,196.18 C58.00,196.99 59.60,198.44 61.30,199.55 C63.00,200.65 64.95,201.94 66.80,202.84 C68.65,203.74 70.70,204.28 72.40,204.95 C74.10,205.63 75.02,205.80 77.00,206.90 C78.98,208.00 81.53,210.02 84.30,211.57 C87.07,213.12 90.52,214.72 93.60,216.20 C96.68,217.67 99.72,219.07 102.80,220.43 C105.88,221.79 109.00,223.16 112.10,224.36 C115.20,225.55 119.08,226.82 121.40,227.59 C123.72,228.36 123.13,227.87 126.00,228.98 C128.87,230.08 133.42,232.41 138.60,234.23 C143.78,236.04 151.65,238.19 157.10,239.85 C162.55,241.52 168.93,243.48 171.30,244.20" stroke="#2f2fe6" stroke-width="0.6" opacity="0.65"/>
<path d="M29.70,164.10 C30.02,164.52 30.83,164.95 31.60,166.60 C32.37,168.25 33.38,171.68 34.30,174.00 C35.22,176.32 36.17,178.50 37.10,180.50 C38.03,182.50 39.28,184.75 39.90,186.00 C40.52,187.25 40.02,186.97 40.80,188.00 C41.58,189.03 43.35,191.18 44.60,192.20 C45.85,193.22 46.92,193.59 48.30,194.10 C49.68,194.61 51.52,194.72 52.90,195.27 C54.28,195.82 55.20,196.35 56.60,197.42 C58.00,198.48 59.60,200.26 61.30,201.65 C63.00,203.05 64.95,204.66 66.80,205.76 C68.65,206.86 70.70,207.46 72.40,208.25 C74.10,209.04 75.02,209.30 77.00,210.50 C78.98,211.70 81.53,213.82 84.30,215.43 C87.07,217.05 90.52,218.68 93.60,220.20 C96.68,221.73 99.72,223.16 102.80,224.57 C105.88,225.98 109.00,227.40 112.10,228.64 C115.20,229.88 119.08,231.21 121.40,232.01 C123.72,232.80 123.13,232.30 126.00,233.42 C128.87,234.55 133.42,236.92 138.60,238.77 C143.78,240.63 151.65,242.84 157.10,244.55 C162.55,246.25 168.93,248.26 171.30,249.00" stroke="#2f2fe6" stroke-width="0.6" opacity="0.65"/>
<path d="M29.70,164.10 C30.58,164.43 32.95,165.32 35.00,166.10 C37.05,166.88 39.50,167.82 42.00,168.80 C44.50,169.78 47.00,170.75 50.00,172.00 C53.00,173.25 56.67,174.85 60.00,176.30 C63.33,177.75 66.67,179.20 70.00,180.70 C73.33,182.20 76.67,183.77 80.00,185.30 C83.33,186.83 86.67,188.35 90.00,189.90 C93.33,191.45 96.67,193.03 100.00,194.60 C103.33,196.17 106.67,197.73 110.00,199.30 C113.33,200.87 116.67,202.43 120.00,204.00 C123.33,205.57 126.67,207.15 130.00,208.70 C133.33,210.25 136.67,211.80 140.00,213.30 C143.33,214.80 146.67,216.25 150.00,217.70 C153.33,219.15 156.45,220.52 160.00,222.00 C163.55,223.48 169.42,225.83 171.30,226.60" stroke="#262626" stroke-width="1.3" opacity="1"/>
<path d="M29.70,164.10 C30.17,164.67 31.57,166.00 32.50,167.50 C33.43,169.00 34.22,171.08 35.30,173.10 C36.38,175.12 38.00,178.08 39.00,179.60 C40.00,181.12 40.68,181.52 41.30,182.20 C41.92,182.88 42.15,183.17 42.70,183.70 C43.25,184.23 43.98,184.95 44.60,185.40 C45.22,185.85 45.63,186.07 46.40,186.40 C47.17,186.73 47.97,187.13 49.20,187.40 C50.43,187.67 52.42,187.73 53.80,188.00 C55.18,188.27 55.95,188.38 57.50,189.00 C59.05,189.62 61.23,190.70 63.10,191.70 C64.97,192.70 66.85,193.98 68.70,195.00 C70.55,196.02 72.82,197.15 74.20,197.80 C75.58,198.45 75.32,198.28 77.00,198.90 C78.68,199.52 81.53,200.30 84.30,201.50 C87.07,202.70 90.52,204.65 93.60,206.10 C96.68,207.55 99.72,208.85 102.80,210.20 C105.88,211.55 109.23,212.93 112.10,214.20 C114.97,215.47 117.68,216.82 120.00,217.80 C122.32,218.78 122.90,218.87 126.00,220.10 C129.10,221.33 133.42,223.27 138.60,225.20 C143.78,227.13 151.65,229.82 157.10,231.70 C162.55,233.58 168.93,235.70 171.30,236.50" stroke="#e8262e" stroke-width="1.3" opacity="1"/>
<path d="M29.70,164.10 C30.02,164.52 30.83,164.95 31.60,166.60 C32.37,168.25 33.38,171.68 34.30,174.00 C35.22,176.32 36.17,178.50 37.10,180.50 C38.03,182.50 39.28,184.75 39.90,186.00 C40.52,187.25 40.02,186.97 40.80,188.00 C41.58,189.03 43.35,191.18 44.60,192.20 C45.85,193.22 46.92,193.63 48.30,194.10 C49.68,194.57 51.52,194.55 52.90,195.00 C54.28,195.45 55.20,195.87 56.60,196.80 C58.00,197.73 59.60,199.35 61.30,200.60 C63.00,201.85 64.95,203.30 66.80,204.30 C68.65,205.30 70.70,205.87 72.40,206.60 C74.10,207.33 75.02,207.55 77.00,208.70 C78.98,209.85 81.53,211.92 84.30,213.50 C87.07,215.08 90.52,216.70 93.60,218.20 C96.68,219.70 99.72,221.12 102.80,222.50 C105.88,223.88 109.00,225.28 112.10,226.50 C115.20,227.72 119.08,229.02 121.40,229.80 C123.72,230.58 123.13,230.08 126.00,231.20 C128.87,232.32 133.42,234.67 138.60,236.50 C143.78,238.33 151.65,240.52 157.10,242.20 C162.55,243.88 168.93,245.87 171.30,246.60" stroke="#2f2fe6" stroke-width="1.3" opacity="1"/>
</g>
<rect x="32.10" y="237.30" width="56.50" height="25.20" fill="#fff" stroke="#cfcfcf" stroke-width="0.9"/>
<line x1="33.60" y1="242.20" x2="46.60" y2="242.20" stroke="#262626" stroke-width="1.0" opacity="0.8"/>
<text x="47.90" y="244.90" class="lg">Monofocal</text>
<line x1="33.60" y1="250.40" x2="46.60" y2="250.40" stroke="#2f2fe6" stroke-width="1.0" opacity="0.8"/>
<text x="47.90" y="253.10" class="lg">Trifocal</text>
<line x1="33.60" y1="258.80" x2="46.60" y2="258.80" stroke="#e8262e" stroke-width="1.0" opacity="0.8"/>
<text x="47.90" y="261.50" class="lg">Mono+AddOn</text>
<rect x="211.50" y="163.80" width="142.80" height="102.70" fill="none" stroke="#cfcfcf" stroke-width="1.1"/>
<line x1="240.06" y1="266.50" x2="240.06" y2="264.90" stroke="#b4b4b4" stroke-width="0.8"/>
<line x1="240.06" y1="163.80" x2="240.06" y2="165.40" stroke="#b4b4b4" stroke-width="0.8"/>
<line x1="211.50" y1="245.96" x2="213.10" y2="245.96" stroke="#b4b4b4" stroke-width="0.8"/>
<line x1="354.30" y1="245.96" x2="352.70" y2="245.96" stroke="#b4b4b4" stroke-width="0.8"/>
<line x1="268.62" y1="266.50" x2="268.62" y2="264.90" stroke="#b4b4b4" stroke-width="0.8"/>
<line x1="268.62" y1="163.80" x2="268.62" y2="165.40" stroke="#b4b4b4" stroke-width="0.8"/>
<line x1="211.50" y1="225.42" x2="213.10" y2="225.42" stroke="#b4b4b4" stroke-width="0.8"/>
<line x1="354.30" y1="225.42" x2="352.70" y2="225.42" stroke="#b4b4b4" stroke-width="0.8"/>
<line x1="297.18" y1="266.50" x2="297.18" y2="264.90" stroke="#b4b4b4" stroke-width="0.8"/>
<line x1="297.18" y1="163.80" x2="297.18" y2="165.40" stroke="#b4b4b4" stroke-width="0.8"/>
<line x1="211.50" y1="204.88" x2="213.10" y2="204.88" stroke="#b4b4b4" stroke-width="0.8"/>
<line x1="354.30" y1="204.88" x2="352.70" y2="204.88" stroke="#b4b4b4" stroke-width="0.8"/>
<line x1="325.74" y1="266.50" x2="325.74" y2="264.90" stroke="#b4b4b4" stroke-width="0.8"/>
<line x1="325.74" y1="163.80" x2="325.74" y2="165.40" stroke="#b4b4b4" stroke-width="0.8"/>
<line x1="211.50" y1="184.34" x2="213.10" y2="184.34" stroke="#b4b4b4" stroke-width="0.8"/>
<line x1="354.30" y1="184.34" x2="352.70" y2="184.34" stroke="#b4b4b4" stroke-width="0.8"/>
<text x="209.10" y="269.40" text-anchor="end" class="tk">0</text>
<text x="209.10" y="248.86" text-anchor="end" class="tk">0.2</text>
<text x="209.10" y="228.32" text-anchor="end" class="tk">0.4</text>
<text x="209.10" y="207.78" text-anchor="end" class="tk">0.6</text>
<text x="209.10" y="187.24" text-anchor="end" class="tk">0.8</text>
<text x="209.10" y="166.70" text-anchor="end" class="tk">1</text>
<text x="211.50" y="275.80" text-anchor="middle" class="tk">0</text>
<text x="240.06" y="275.80" text-anchor="middle" class="tk">20</text>
<text x="268.62" y="275.80" text-anchor="middle" class="tk">40</text>
<text x="297.18" y="275.80" text-anchor="middle" class="tk">60</text>
<text x="325.74" y="275.80" text-anchor="middle" class="tk">80</text>
<text x="354.30" y="275.80" text-anchor="middle" class="tk">100</text>
<text x="282.90" y="284.90" text-anchor="middle" class="al">Spatial frequency [lp/mm]</text>
<text transform="translate(195.50,215.85) rotate(-90)" x="0" y="0" text-anchor="middle" class="al" style="font-size:7.1px">MTF</text>
<text x="227.20" y="157.70" textLength="106.90" lengthAdjust="spacing" class="ti">Intermediate @4.5mm</text>
<clipPath id="c5"><rect x="211.50" y="161.80" width="142.80" height="104.70"/></clipPath>
<g clip-path="url(#c5)" fill="none" stroke-linejoin="round" stroke-linecap="round">
<path d="M211.80,164.20 C212.18,165.22 213.43,167.73 214.10,170.30 C214.77,172.87 215.42,177.15 215.80,179.60 C216.18,182.05 216.12,182.43 216.40,185.00 C216.68,187.57 217.13,191.00 217.50,195.00 C217.87,199.00 218.18,204.50 218.60,209.00 C219.02,213.50 219.58,218.00 220.00,222.00 C220.42,226.00 220.75,229.50 221.10,233.00 C221.45,236.50 221.73,240.30 222.10,243.00 C222.47,245.70 222.88,246.83 223.30,249.20 C223.72,251.57 224.18,255.25 224.60,257.20 C225.02,259.15 225.40,260.63 225.80,260.87 C226.20,261.12 226.63,259.64 227.00,258.69 C227.37,257.73 227.53,256.24 228.00,255.13 C228.47,254.02 229.23,252.50 229.80,252.05 C230.37,251.59 230.88,251.87 231.40,252.39 C231.92,252.92 232.33,254.40 232.90,255.20 C233.47,256.00 234.23,256.95 234.80,257.20 C235.37,257.45 235.68,257.20 236.30,256.70 C236.92,256.20 237.72,254.88 238.50,254.20 C239.28,253.52 240.18,252.87 241.00,252.60 C241.82,252.33 242.58,252.30 243.40,252.60 C244.22,252.90 245.17,253.37 245.90,254.40 C246.63,255.43 247.02,257.55 247.80,258.80 C248.58,260.05 249.62,261.75 250.60,261.90 C251.58,262.05 252.68,260.37 253.70,259.70 C254.72,259.03 255.68,258.00 256.70,257.90 C257.72,257.80 258.77,258.54 259.80,259.10 C260.83,259.66 261.87,260.77 262.90,261.28 C263.93,261.79 264.87,262.07 266.00,262.16 C267.13,262.25 268.57,262.04 269.70,261.84 C270.83,261.63 271.77,261.02 272.80,260.91 C273.83,260.81 275.03,261.13 275.90,261.19 C276.77,261.25 276.92,261.44 278.00,261.28 C279.08,261.12 280.95,260.26 282.40,260.25 C283.85,260.24 285.25,260.69 286.70,261.22 C288.15,261.75 289.63,262.91 291.10,263.43 C292.57,263.94 294.05,264.34 295.50,264.33 C296.95,264.31 298.35,263.61 299.80,263.33 C301.25,263.05 302.62,262.91 304.20,262.63 C305.78,262.35 307.85,261.73 309.30,261.65 C310.75,261.57 311.45,261.92 312.90,262.13 C314.35,262.35 316.43,262.49 318.00,262.95 C319.57,263.42 320.38,264.58 322.30,264.91 C324.22,265.25 327.08,265.01 329.50,264.96 C331.92,264.90 334.37,264.65 336.80,264.60 C339.23,264.55 341.23,264.44 344.10,264.64 C346.97,264.84 352.35,265.61 354.00,265.80" stroke="#e8262e" stroke-width="0.6" opacity="0.5"/>
<path d="M211.80,164.20 C212.18,165.22 213.43,167.73 214.10,170.30 C214.77,172.87 215.42,177.15 215.80,179.60 C216.18,182.05 216.12,182.43 216.40,185.00 C216.68,187.57 217.13,191.00 217.50,195.00 C217.87,199.00 218.18,204.50 218.60,209.00 C219.02,213.50 219.58,218.00 220.00,222.00 C220.42,226.00 220.75,229.50 221.10,233.00 C221.45,236.50 221.73,240.30 222.10,243.00 C222.47,245.70 222.88,246.83 223.30,249.20 C223.72,251.57 224.18,255.21 224.60,257.20 C225.02,259.19 225.40,260.77 225.80,261.13 C226.20,261.48 226.63,260.16 227.00,259.31 C227.37,258.47 227.53,257.03 228.00,256.07 C228.47,255.11 229.23,253.83 229.80,253.55 C230.37,253.28 230.88,253.76 231.40,254.41 C231.92,255.05 232.33,256.57 232.90,257.40 C233.47,258.23 234.23,259.15 234.80,259.40 C235.37,259.65 235.68,259.40 236.30,258.90 C236.92,258.40 237.72,257.08 238.50,256.40 C239.28,255.72 240.18,255.07 241.00,254.80 C241.82,254.53 242.58,254.50 243.40,254.80 C244.22,255.10 245.17,255.57 245.90,256.60 C246.63,257.63 247.02,259.75 247.80,261.00 C248.58,262.25 249.62,263.95 250.60,264.10 C251.58,264.25 252.68,262.57 253.70,261.90 C254.72,261.23 255.68,260.20 256.70,260.10 C257.72,260.00 258.77,260.73 259.80,261.30 C260.83,261.87 261.87,263.00 262.90,263.52 C263.93,264.04 264.87,264.33 266.00,264.44 C267.13,264.55 268.57,264.36 269.70,264.16 C270.83,263.97 271.77,263.38 272.80,263.29 C273.83,263.19 275.03,263.53 275.90,263.61 C276.77,263.68 276.92,263.86 278.00,263.72 C279.08,263.58 280.95,262.74 282.40,262.75 C283.85,262.76 285.25,263.24 286.70,263.78 C288.15,264.32 289.63,265.49 291.10,265.97 C292.57,266.46 294.05,266.76 295.50,266.67 C296.95,266.59 298.35,265.82 299.80,265.47 C301.25,265.12 302.62,264.92 304.20,264.57 C305.78,264.22 307.85,263.50 309.30,263.35 C310.75,263.20 311.45,263.52 312.90,263.67 C314.35,263.82 316.43,263.84 318.00,264.25 C319.57,264.65 320.38,265.79 322.30,266.09 C324.22,266.39 327.08,266.12 329.50,266.04 C331.92,265.96 334.37,265.68 336.80,265.60 C339.23,265.52 341.23,265.39 344.10,265.56 C346.97,265.72 352.35,266.43 354.00,266.60" stroke="#e8262e" stroke-width="0.6" opacity="0.5"/>
<path d="M211.80,164.20 C212.22,165.22 213.55,167.73 214.30,170.30 C215.05,172.87 215.78,177.15 216.30,179.60 C216.82,182.05 216.97,182.27 217.40,185.00 C217.83,187.73 218.32,192.00 218.90,196.00 C219.48,200.00 220.28,204.83 220.90,209.00 C221.52,213.17 222.07,217.00 222.60,221.00 C223.13,225.00 223.57,229.33 224.10,233.00 C224.63,236.67 225.30,240.30 225.80,243.00 C226.30,245.70 226.68,247.15 227.10,249.20 C227.52,251.25 227.93,253.58 228.30,255.32 C228.67,257.06 229.00,258.57 229.30,259.64 C229.60,260.71 229.75,262.07 230.10,261.72 C230.45,261.38 230.93,259.02 231.40,257.56 C231.87,256.11 232.33,254.22 232.90,252.99 C233.47,251.76 234.18,250.80 234.80,250.18 C235.42,249.56 235.98,249.27 236.60,249.27 C237.22,249.26 237.77,249.54 238.50,250.15 C239.23,250.77 240.18,251.86 241.00,252.94 C241.82,254.01 242.63,255.39 243.40,256.62 C244.17,257.85 245.08,259.52 245.60,260.30 C246.12,261.08 246.08,261.52 246.50,261.30 C246.92,261.08 247.32,259.94 248.10,258.99 C248.88,258.03 250.07,256.34 251.20,255.56 C252.33,254.79 253.77,254.34 254.90,254.34 C256.03,254.33 256.97,254.91 258.00,255.51 C259.03,256.12 260.07,257.06 261.10,257.99 C262.13,258.91 263.28,260.34 264.20,261.04 C265.12,261.75 265.68,262.22 266.60,262.21 C267.52,262.20 268.67,261.40 269.70,260.97 C270.73,260.54 271.77,259.91 272.80,259.63 C273.83,259.35 275.03,259.30 275.90,259.29 C276.77,259.28 276.92,259.41 278.00,259.56 C279.08,259.71 280.95,260.15 282.40,260.20 C283.85,260.25 285.25,260.04 286.70,259.84 C288.15,259.65 289.63,259.02 291.10,259.05 C292.57,259.08 294.05,259.55 295.50,260.05 C296.95,260.55 298.35,261.44 299.80,262.04 C301.25,262.64 302.75,263.27 304.20,263.64 C305.65,264.00 307.05,264.23 308.50,264.23 C309.95,264.23 311.32,263.77 312.90,263.63 C314.48,263.48 315.83,263.49 318.00,263.37 C320.17,263.26 322.77,262.83 325.90,262.94 C329.03,263.06 333.17,263.73 336.80,264.04 C340.43,264.36 344.83,264.67 347.70,264.84 C350.57,265.02 352.95,265.06 354.00,265.10" stroke="#2f2fe6" stroke-width="0.6" opacity="0.55"/>
<path d="M211.80,164.20 C212.22,165.22 213.55,167.73 214.30,170.30 C215.05,172.87 215.78,177.15 216.30,179.60 C216.82,182.05 216.97,182.27 217.40,185.00 C217.83,187.73 218.32,192.00 218.90,196.00 C219.48,200.00 220.28,204.83 220.90,209.00 C221.52,213.17 222.07,217.00 222.60,221.00 C223.13,225.00 223.57,229.33 224.10,233.00 C224.63,236.67 225.30,240.30 225.80,243.00 C226.30,245.70 226.68,247.12 227.10,249.20 C227.52,251.28 227.93,253.62 228.30,255.48 C228.67,257.34 229.00,259.12 229.30,260.36 C229.60,261.59 229.75,263.03 230.10,262.88 C230.45,262.72 230.93,260.71 231.40,259.44 C231.87,258.16 232.33,256.38 232.90,255.21 C233.47,254.04 234.18,253.03 234.80,252.42 C235.42,251.81 235.98,251.53 236.60,251.53 C237.22,251.54 237.77,251.82 238.50,252.45 C239.23,253.07 240.18,254.18 241.00,255.26 C241.82,256.35 242.63,257.74 243.40,258.98 C244.17,260.22 245.08,261.91 245.60,262.70 C246.12,263.48 246.08,263.92 246.50,263.70 C246.92,263.49 247.32,262.36 248.10,261.41 C248.88,260.47 250.07,258.80 251.20,258.04 C252.33,257.28 253.77,256.86 254.90,256.86 C256.03,256.87 256.97,257.46 258.00,258.09 C259.03,258.71 260.07,259.67 261.10,260.61 C262.13,261.56 263.28,263.03 264.20,263.76 C265.12,264.48 265.68,264.98 266.60,264.99 C267.52,265.00 268.67,264.23 269.70,263.83 C270.73,263.43 271.77,262.82 272.80,262.57 C273.83,262.32 275.03,262.30 275.90,262.31 C276.77,262.32 276.92,262.46 278.00,262.64 C279.08,262.82 280.95,263.31 282.40,263.40 C283.85,263.48 285.25,263.33 286.70,263.16 C288.15,262.98 289.63,262.38 291.10,262.35 C292.57,262.32 294.05,262.58 295.50,262.95 C296.95,263.32 298.35,264.09 299.80,264.56 C301.25,265.03 302.75,265.53 304.20,265.76 C305.65,266.00 307.05,266.07 308.50,265.97 C309.95,265.87 311.32,265.36 312.90,265.17 C314.48,264.98 315.83,264.98 318.00,264.83 C320.17,264.67 322.77,264.20 325.90,264.26 C329.03,264.31 333.17,264.91 336.80,265.16 C340.43,265.41 344.83,265.63 347.70,265.76 C350.57,265.88 352.95,265.88 354.00,265.90" stroke="#2f2fe6" stroke-width="0.6" opacity="0.55"/>
<path d="M211.80,164.20 C212.18,165.22 213.43,167.73 214.10,170.30 C214.77,172.87 215.42,177.15 215.80,179.60 C216.18,182.05 216.12,182.43 216.40,185.00 C216.68,187.57 217.13,191.00 217.50,195.00 C217.87,199.00 218.18,204.50 218.60,209.00 C219.02,213.50 219.58,218.00 220.00,222.00 C220.42,226.00 220.75,229.50 221.10,233.00 C221.45,236.50 221.73,240.30 222.10,243.00 C222.47,245.70 222.88,246.83 223.30,249.20 C223.72,251.57 224.18,255.23 224.60,257.20 C225.02,259.17 225.40,260.70 225.80,261.00 C226.20,261.30 226.63,259.90 227.00,259.00 C227.37,258.10 227.53,256.63 228.00,255.60 C228.47,254.57 229.23,253.17 229.80,252.80 C230.37,252.43 230.88,252.82 231.40,253.40 C231.92,253.98 232.33,255.48 232.90,256.30 C233.47,257.12 234.23,258.05 234.80,258.30 C235.37,258.55 235.68,258.30 236.30,257.80 C236.92,257.30 237.72,255.98 238.50,255.30 C239.28,254.62 240.18,253.97 241.00,253.70 C241.82,253.43 242.58,253.40 243.40,253.70 C244.22,254.00 245.17,254.47 245.90,255.50 C246.63,256.53 247.02,258.65 247.80,259.90 C248.58,261.15 249.62,262.85 250.60,263.00 C251.58,263.15 252.68,261.47 253.70,260.80 C254.72,260.13 255.68,259.10 256.70,259.00 C257.72,258.90 258.77,259.63 259.80,260.20 C260.83,260.77 261.87,261.88 262.90,262.40 C263.93,262.92 264.87,263.20 266.00,263.30 C267.13,263.40 268.57,263.20 269.70,263.00 C270.83,262.80 271.77,262.20 272.80,262.10 C273.83,262.00 275.03,262.33 275.90,262.40 C276.77,262.47 276.92,262.65 278.00,262.50 C279.08,262.35 280.95,261.50 282.40,261.50 C283.85,261.50 285.25,261.97 286.70,262.50 C288.15,263.03 289.63,264.20 291.10,264.70 C292.57,265.20 294.05,265.55 295.50,265.50 C296.95,265.45 298.35,264.72 299.80,264.40 C301.25,264.08 302.62,263.92 304.20,263.60 C305.78,263.28 307.85,262.62 309.30,262.50 C310.75,262.38 311.45,262.72 312.90,262.90 C314.35,263.08 316.43,263.17 318.00,263.60 C319.57,264.03 320.38,265.18 322.30,265.50 C324.22,265.82 327.08,265.57 329.50,265.50 C331.92,265.43 334.37,265.17 336.80,265.10 C339.23,265.03 341.23,264.92 344.10,265.10 C346.97,265.28 352.35,266.02 354.00,266.20" stroke="#e8262e" stroke-width="1.3" opacity="1"/>
<path d="M211.80,164.20 C212.22,165.22 213.55,167.73 214.30,170.30 C215.05,172.87 215.78,177.15 216.30,179.60 C216.82,182.05 216.97,182.27 217.40,185.00 C217.83,187.73 218.32,192.00 218.90,196.00 C219.48,200.00 220.28,204.83 220.90,209.00 C221.52,213.17 222.07,217.00 222.60,221.00 C223.13,225.00 223.57,229.33 224.10,233.00 C224.63,236.67 225.30,240.30 225.80,243.00 C226.30,245.70 226.68,247.13 227.10,249.20 C227.52,251.27 227.93,253.60 228.30,255.40 C228.67,257.20 229.00,258.85 229.30,260.00 C229.60,261.15 229.75,262.55 230.10,262.30 C230.45,262.05 230.93,259.87 231.40,258.50 C231.87,257.13 232.33,255.30 232.90,254.10 C233.47,252.90 234.18,251.92 234.80,251.30 C235.42,250.68 235.98,250.40 236.60,250.40 C237.22,250.40 237.77,250.68 238.50,251.30 C239.23,251.92 240.18,253.02 241.00,254.10 C241.82,255.18 242.63,256.57 243.40,257.80 C244.17,259.03 245.08,260.72 245.60,261.50 C246.12,262.28 246.08,262.72 246.50,262.50 C246.92,262.28 247.32,261.15 248.10,260.20 C248.88,259.25 250.07,257.57 251.20,256.80 C252.33,256.03 253.77,255.60 254.90,255.60 C256.03,255.60 256.97,256.18 258.00,256.80 C259.03,257.42 260.07,258.37 261.10,259.30 C262.13,260.23 263.28,261.68 264.20,262.40 C265.12,263.12 265.68,263.60 266.60,263.60 C267.52,263.60 268.67,262.82 269.70,262.40 C270.73,261.98 271.77,261.37 272.80,261.10 C273.83,260.83 275.03,260.80 275.90,260.80 C276.77,260.80 276.92,260.93 278.00,261.10 C279.08,261.27 280.95,261.73 282.40,261.80 C283.85,261.87 285.25,261.68 286.70,261.50 C288.15,261.32 289.63,260.70 291.10,260.70 C292.57,260.70 294.05,261.07 295.50,261.50 C296.95,261.93 298.35,262.77 299.80,263.30 C301.25,263.83 302.75,264.40 304.20,264.70 C305.65,265.00 307.05,265.15 308.50,265.10 C309.95,265.05 311.32,264.57 312.90,264.40 C314.48,264.23 315.83,264.23 318.00,264.10 C320.17,263.97 322.77,263.52 325.90,263.60 C329.03,263.68 333.17,264.32 336.80,264.60 C340.43,264.88 344.83,265.15 347.70,265.30 C350.57,265.45 352.95,265.47 354.00,265.50" stroke="#2f2fe6" stroke-width="1.3" opacity="1"/>
</g>
<rect x="294.60" y="167.00" width="56.70" height="17.30" fill="#fff" stroke="#cfcfcf" stroke-width="0.9"/>
<line x1="296.30" y1="171.90" x2="309.40" y2="171.90" stroke="#2f2fe6" stroke-width="1.0" opacity="0.8"/>
<text x="310.70" y="174.60" class="lg">Trifocal</text>
<line x1="296.30" y1="180.10" x2="309.40" y2="180.10" stroke="#e8262e" stroke-width="1.0" opacity="0.8"/>
<text x="310.70" y="182.80" class="lg">Mono+AddOn</text>
<rect x="397.20" y="163.80" width="142.80" height="102.70" fill="none" stroke="#cfcfcf" stroke-width="1.1"/>
<line x1="425.76" y1="266.50" x2="425.76" y2="264.90" stroke="#b4b4b4" stroke-width="0.8"/>
<line x1="425.76" y1="163.80" x2="425.76" y2="165.40" stroke="#b4b4b4" stroke-width="0.8"/>
<line x1="397.20" y1="245.96" x2="398.80" y2="245.96" stroke="#b4b4b4" stroke-width="0.8"/>
<line x1="540.00" y1="245.96" x2="538.40" y2="245.96" stroke="#b4b4b4" stroke-width="0.8"/>
<line x1="454.32" y1="266.50" x2="454.32" y2="264.90" stroke="#b4b4b4" stroke-width="0.8"/>
<line x1="454.32" y1="163.80" x2="454.32" y2="165.40" stroke="#b4b4b4" stroke-width="0.8"/>
<line x1="397.20" y1="225.42" x2="398.80" y2="225.42" stroke="#b4b4b4" stroke-width="0.8"/>
<line x1="540.00" y1="225.42" x2="538.40" y2="225.42" stroke="#b4b4b4" stroke-width="0.8"/>
<line x1="482.88" y1="266.50" x2="482.88" y2="264.90" stroke="#b4b4b4" stroke-width="0.8"/>
<line x1="482.88" y1="163.80" x2="482.88" y2="165.40" stroke="#b4b4b4" stroke-width="0.8"/>
<line x1="397.20" y1="204.88" x2="398.80" y2="204.88" stroke="#b4b4b4" stroke-width="0.8"/>
<line x1="540.00" y1="204.88" x2="538.40" y2="204.88" stroke="#b4b4b4" stroke-width="0.8"/>
<line x1="511.44" y1="266.50" x2="511.44" y2="264.90" stroke="#b4b4b4" stroke-width="0.8"/>
<line x1="511.44" y1="163.80" x2="511.44" y2="165.40" stroke="#b4b4b4" stroke-width="0.8"/>
<line x1="397.20" y1="184.34" x2="398.80" y2="184.34" stroke="#b4b4b4" stroke-width="0.8"/>
<line x1="540.00" y1="184.34" x2="538.40" y2="184.34" stroke="#b4b4b4" stroke-width="0.8"/>
<text x="394.80" y="269.40" text-anchor="end" class="tk">0</text>
<text x="394.80" y="248.86" text-anchor="end" class="tk">0.2</text>
<text x="394.80" y="228.32" text-anchor="end" class="tk">0.4</text>
<text x="394.80" y="207.78" text-anchor="end" class="tk">0.6</text>
<text x="394.80" y="187.24" text-anchor="end" class="tk">0.8</text>
<text x="394.80" y="166.70" text-anchor="end" class="tk">1</text>
<text x="397.20" y="275.80" text-anchor="middle" class="tk">0</text>
<text x="425.76" y="275.80" text-anchor="middle" class="tk">20</text>
<text x="454.32" y="275.80" text-anchor="middle" class="tk">40</text>
<text x="482.88" y="275.80" text-anchor="middle" class="tk">60</text>
<text x="511.44" y="275.80" text-anchor="middle" class="tk">80</text>
<text x="540.00" y="275.80" text-anchor="middle" class="tk">100</text>
<text x="468.60" y="284.90" text-anchor="middle" class="al">Spatial frequency [lp/mm]</text>
<text transform="translate(381.20,215.85) rotate(-90)" x="0" y="0" text-anchor="middle" class="al" style="font-size:7.1px">MTF</text>
<text x="429.10" y="158.20" textLength="69.10" lengthAdjust="spacing" class="ti">Near @4.5mm</text>
<clipPath id="c6"><rect x="397.20" y="161.80" width="142.80" height="104.70"/></clipPath>
<g clip-path="url(#c6)" fill="none" stroke-linejoin="round" stroke-linecap="round">
<path d="M397.50,164.10 C397.70,165.28 398.32,168.62 398.70,171.20 C399.08,173.78 399.52,176.80 399.80,179.60 C400.08,182.40 400.15,184.78 400.40,188.00 C400.65,191.22 401.02,195.23 401.30,198.90 C401.58,202.57 401.83,206.00 402.10,210.00 C402.37,214.00 402.62,218.57 402.90,222.90 C403.18,227.23 403.52,232.73 403.80,236.00 C404.08,239.27 404.33,240.33 404.60,242.50 C404.87,244.67 405.12,246.85 405.40,249.00 C405.68,251.15 405.97,253.67 406.30,255.40 C406.63,257.13 406.98,258.70 407.40,259.40 C407.82,260.10 408.27,259.92 408.80,259.60 C409.33,259.28 409.93,258.42 410.60,257.50 C411.27,256.58 412.15,255.47 412.80,254.07 C413.45,252.66 413.93,250.44 414.50,249.08 C415.07,247.72 415.58,246.17 416.20,245.90 C416.82,245.63 417.58,246.83 418.20,247.49 C418.82,248.15 419.35,249.17 419.90,249.86 C420.45,250.56 420.72,251.22 421.50,251.65 C422.28,252.08 423.57,252.35 424.60,252.43 C425.63,252.50 426.80,252.20 427.70,252.10 C428.60,252.00 429.00,252.02 430.00,251.80 C431.00,251.58 432.37,250.93 433.70,250.80 C435.03,250.67 436.55,250.55 438.00,251.00 C439.45,251.45 440.95,252.80 442.40,253.53 C443.85,254.26 445.37,255.06 446.70,255.35 C448.03,255.65 449.07,255.51 450.40,255.30 C451.73,255.09 453.27,254.20 454.70,254.11 C456.13,254.01 457.45,254.46 459.00,254.71 C460.55,254.96 462.28,255.58 464.00,255.62 C465.72,255.65 467.45,254.95 469.30,254.92 C471.15,254.89 473.17,255.23 475.10,255.43 C477.03,255.63 478.83,256.02 480.90,256.13 C482.97,256.25 485.20,256.07 487.50,256.14 C489.80,256.21 492.62,256.41 494.70,256.55 C496.78,256.69 497.90,256.77 500.00,256.96 C502.10,257.14 504.88,257.54 507.30,257.66 C509.72,257.78 512.08,257.79 514.50,257.67 C516.92,257.56 519.37,257.04 521.80,256.98 C524.23,256.92 527.03,257.05 529.10,257.29 C531.17,257.52 532.43,258.14 534.20,258.39 C535.97,258.65 538.78,258.73 539.70,258.80" stroke="#e8262e" stroke-width="0.65" opacity="0.55"/>
<path d="M397.50,164.10 C397.70,165.28 398.32,168.62 398.70,171.20 C399.08,173.78 399.52,176.80 399.80,179.60 C400.08,182.40 400.15,184.78 400.40,188.00 C400.65,191.22 401.02,195.23 401.30,198.90 C401.58,202.57 401.83,206.00 402.10,210.00 C402.37,214.00 402.62,218.57 402.90,222.90 C403.18,227.23 403.52,232.73 403.80,236.00 C404.08,239.27 404.33,240.33 404.60,242.50 C404.87,244.67 405.12,246.85 405.40,249.00 C405.68,251.15 405.97,253.67 406.30,255.40 C406.63,257.13 406.98,258.70 407.40,259.40 C407.82,260.10 408.27,259.92 408.80,259.60 C409.33,259.28 409.93,258.38 410.60,257.50 C411.27,256.62 412.15,255.60 412.80,254.33 C413.45,253.07 413.93,251.09 414.50,249.92 C415.07,248.74 415.58,247.37 416.20,247.30 C416.82,247.23 417.58,248.71 418.20,249.51 C418.82,250.32 419.35,251.36 419.90,252.14 C420.45,252.91 420.72,253.61 421.50,254.15 C422.28,254.69 423.57,255.21 424.60,255.37 C425.63,255.53 426.80,255.20 427.70,255.10 C428.60,255.00 429.00,255.02 430.00,254.80 C431.00,254.58 432.37,253.93 433.70,253.80 C435.03,253.67 436.55,253.66 438.00,254.00 C439.45,254.34 440.95,255.36 442.40,255.87 C443.85,256.38 445.37,256.94 446.70,257.05 C448.03,257.15 449.07,256.79 450.40,256.50 C451.73,256.21 453.27,255.40 454.70,255.29 C456.13,255.19 457.45,255.64 459.00,255.89 C460.55,256.14 462.28,256.75 464.00,256.78 C465.72,256.82 467.45,256.11 469.30,256.08 C471.15,256.04 473.17,256.37 475.10,256.57 C477.03,256.77 478.83,257.15 480.90,257.27 C482.97,257.38 485.20,257.19 487.50,257.26 C489.80,257.32 492.62,257.52 494.70,257.65 C496.78,257.78 497.90,257.86 500.00,258.04 C502.10,258.23 504.88,258.62 507.30,258.74 C509.72,258.85 512.08,258.85 514.50,258.73 C516.92,258.61 519.37,258.09 521.80,258.02 C524.23,257.95 527.03,258.08 529.10,258.31 C531.17,258.54 532.43,259.16 534.20,259.41 C535.97,259.65 538.78,259.73 539.70,259.80" stroke="#e8262e" stroke-width="0.65" opacity="0.55"/>
<path d="M397.50,164.10 C397.70,165.28 398.32,168.62 398.70,171.20 C399.08,173.78 399.52,176.80 399.80,179.60 C400.08,182.40 400.15,184.78 400.40,188.00 C400.65,191.22 401.02,195.23 401.30,198.90 C401.58,202.57 401.83,206.00 402.10,210.00 C402.37,214.00 402.62,218.57 402.90,222.90 C403.18,227.23 403.52,232.73 403.80,236.00 C404.08,239.27 404.33,240.33 404.60,242.50 C404.87,244.67 405.12,246.85 405.40,249.00 C405.68,251.15 405.98,253.67 406.30,255.40 C406.62,257.13 406.93,258.88 407.30,259.40 C407.67,259.92 408.10,258.95 408.50,258.50 C408.90,258.05 409.08,257.74 409.70,256.70 C410.32,255.66 411.47,254.09 412.20,252.29 C412.93,250.48 413.43,247.69 414.10,245.87 C414.77,244.04 415.48,241.90 416.20,241.34 C416.92,240.78 417.62,241.61 418.40,242.50 C419.18,243.39 420.08,245.58 420.90,246.70 C421.72,247.82 422.38,248.88 423.30,249.20 C424.22,249.52 425.37,248.92 426.40,248.60 C427.43,248.28 428.38,247.65 429.50,247.30 C430.62,246.95 431.98,246.48 433.10,246.50 C434.22,246.52 434.97,246.83 436.20,247.40 C437.43,247.97 439.07,249.23 440.50,249.90 C441.93,250.57 443.47,251.05 444.80,251.40 C446.13,251.75 447.37,252.05 448.50,252.00 C449.63,251.95 450.57,251.35 451.60,251.10 C452.63,250.85 453.57,250.45 454.70,250.50 C455.83,250.55 457.17,250.93 458.40,251.40 C459.63,251.87 460.77,252.80 462.10,253.30 C463.43,253.80 464.60,254.28 466.40,254.39 C468.20,254.51 470.97,253.99 472.90,253.98 C474.83,253.98 476.18,254.01 478.00,254.38 C479.82,254.74 481.62,255.81 483.80,256.17 C485.98,256.53 488.67,256.38 491.10,256.56 C493.53,256.74 495.70,256.89 498.40,257.25 C501.10,257.62 504.62,258.44 507.30,258.74 C509.98,259.04 512.08,258.85 514.50,259.03 C516.92,259.21 519.37,259.64 521.80,259.82 C524.23,260.00 526.12,259.93 529.10,260.11 C532.08,260.29 537.93,260.77 539.70,260.90" stroke="#2f2fe6" stroke-width="0.6" opacity="0.4"/>
<path d="M397.50,164.10 C397.70,165.28 398.32,168.62 398.70,171.20 C399.08,173.78 399.52,176.80 399.80,179.60 C400.08,182.40 400.15,184.78 400.40,188.00 C400.65,191.22 401.02,195.23 401.30,198.90 C401.58,202.57 401.83,206.00 402.10,210.00 C402.37,214.00 402.62,218.57 402.90,222.90 C403.18,227.23 403.52,232.73 403.80,236.00 C404.08,239.27 404.33,240.33 404.60,242.50 C404.87,244.67 405.12,246.85 405.40,249.00 C405.68,251.15 405.98,253.67 406.30,255.40 C406.62,257.13 406.93,258.88 407.30,259.40 C407.67,259.92 408.10,258.95 408.50,258.50 C408.90,258.05 409.08,257.73 409.70,256.70 C410.32,255.67 411.47,254.07 412.20,252.31 C412.93,250.55 413.43,247.87 414.10,246.13 C414.77,244.39 415.48,242.33 416.20,241.86 C416.92,241.39 417.62,242.33 418.40,243.30 C419.18,244.27 420.08,246.55 420.90,247.70 C421.72,248.85 422.38,249.88 423.30,250.20 C424.22,250.52 425.37,249.92 426.40,249.60 C427.43,249.28 428.38,248.65 429.50,248.30 C430.62,247.95 431.98,247.48 433.10,247.50 C434.22,247.52 434.97,247.83 436.20,248.40 C437.43,248.97 439.07,250.23 440.50,250.90 C441.93,251.57 443.47,252.05 444.80,252.40 C446.13,252.75 447.37,253.05 448.50,253.00 C449.63,252.95 450.57,252.35 451.60,252.10 C452.63,251.85 453.57,251.45 454.70,251.50 C455.83,251.55 457.17,251.93 458.40,252.40 C459.63,252.87 460.77,253.80 462.10,254.30 C463.43,254.80 464.60,255.29 466.40,255.41 C468.20,255.53 470.97,255.01 472.90,255.02 C474.83,255.02 476.18,255.05 478.00,255.42 C479.82,255.79 481.62,256.86 483.80,257.23 C485.98,257.60 488.67,257.45 491.10,257.64 C493.53,257.83 495.70,257.98 498.40,258.35 C501.10,258.72 504.62,259.56 507.30,259.86 C509.98,260.16 512.08,259.98 514.50,260.17 C516.92,260.35 519.37,260.79 521.80,260.98 C524.23,261.16 526.12,261.10 529.10,261.29 C532.08,261.47 537.93,261.96 539.70,262.10" stroke="#2f2fe6" stroke-width="0.6" opacity="0.4"/>
<path d="M397.50,164.10 C397.70,165.28 398.32,168.62 398.70,171.20 C399.08,173.78 399.52,176.80 399.80,179.60 C400.08,182.40 400.15,184.78 400.40,188.00 C400.65,191.22 401.02,195.23 401.30,198.90 C401.58,202.57 401.83,206.00 402.10,210.00 C402.37,214.00 402.62,218.57 402.90,222.90 C403.18,227.23 403.52,232.73 403.80,236.00 C404.08,239.27 404.33,240.33 404.60,242.50 C404.87,244.67 405.12,246.85 405.40,249.00 C405.68,251.15 405.97,253.67 406.30,255.40 C406.63,257.13 406.98,258.70 407.40,259.40 C407.82,260.10 408.27,259.92 408.80,259.60 C409.33,259.28 409.93,258.40 410.60,257.50 C411.27,256.60 412.15,255.53 412.80,254.20 C413.45,252.87 413.93,250.77 414.50,249.50 C415.07,248.23 415.58,246.77 416.20,246.60 C416.82,246.43 417.58,247.77 418.20,248.50 C418.82,249.23 419.35,250.27 419.90,251.00 C420.45,251.73 420.72,252.42 421.50,252.90 C422.28,253.38 423.57,253.78 424.60,253.90 C425.63,254.02 426.80,253.70 427.70,253.60 C428.60,253.50 429.00,253.52 430.00,253.30 C431.00,253.08 432.37,252.43 433.70,252.30 C435.03,252.17 436.55,252.10 438.00,252.50 C439.45,252.90 440.95,254.08 442.40,254.70 C443.85,255.32 445.37,256.00 446.70,256.20 C448.03,256.40 449.07,256.15 450.40,255.90 C451.73,255.65 453.27,254.80 454.70,254.70 C456.13,254.60 457.45,255.05 459.00,255.30 C460.55,255.55 462.28,256.17 464.00,256.20 C465.72,256.23 467.45,255.53 469.30,255.50 C471.15,255.47 473.17,255.80 475.10,256.00 C477.03,256.20 478.83,256.58 480.90,256.70 C482.97,256.82 485.20,256.63 487.50,256.70 C489.80,256.77 492.62,256.97 494.70,257.10 C496.78,257.23 497.90,257.32 500.00,257.50 C502.10,257.68 504.88,258.08 507.30,258.20 C509.72,258.32 512.08,258.32 514.50,258.20 C516.92,258.08 519.37,257.57 521.80,257.50 C524.23,257.43 527.03,257.57 529.10,257.80 C531.17,258.03 532.43,258.65 534.20,258.90 C535.97,259.15 538.78,259.23 539.70,259.30" stroke="#e8262e" stroke-width="1.3" opacity="1"/>
<path d="M397.50,164.10 C397.70,165.28 398.32,168.62 398.70,171.20 C399.08,173.78 399.52,176.80 399.80,179.60 C400.08,182.40 400.15,184.78 400.40,188.00 C400.65,191.22 401.02,195.23 401.30,198.90 C401.58,202.57 401.83,206.00 402.10,210.00 C402.37,214.00 402.62,218.57 402.90,222.90 C403.18,227.23 403.52,232.73 403.80,236.00 C404.08,239.27 404.33,240.33 404.60,242.50 C404.87,244.67 405.12,246.85 405.40,249.00 C405.68,251.15 405.98,253.67 406.30,255.40 C406.62,257.13 406.93,258.88 407.30,259.40 C407.67,259.92 408.10,258.95 408.50,258.50 C408.90,258.05 409.08,257.73 409.70,256.70 C410.32,255.67 411.47,254.08 412.20,252.30 C412.93,250.52 413.43,247.78 414.10,246.00 C414.77,244.22 415.48,242.12 416.20,241.60 C416.92,241.08 417.62,241.97 418.40,242.90 C419.18,243.83 420.08,246.07 420.90,247.20 C421.72,248.33 422.38,249.38 423.30,249.70 C424.22,250.02 425.37,249.42 426.40,249.10 C427.43,248.78 428.38,248.15 429.50,247.80 C430.62,247.45 431.98,246.98 433.10,247.00 C434.22,247.02 434.97,247.33 436.20,247.90 C437.43,248.47 439.07,249.73 440.50,250.40 C441.93,251.07 443.47,251.55 444.80,251.90 C446.13,252.25 447.37,252.55 448.50,252.50 C449.63,252.45 450.57,251.85 451.60,251.60 C452.63,251.35 453.57,250.95 454.70,251.00 C455.83,251.05 457.17,251.43 458.40,251.90 C459.63,252.37 460.77,253.30 462.10,253.80 C463.43,254.30 464.60,254.78 466.40,254.90 C468.20,255.02 470.97,254.50 472.90,254.50 C474.83,254.50 476.18,254.53 478.00,254.90 C479.82,255.27 481.62,256.33 483.80,256.70 C485.98,257.07 488.67,256.92 491.10,257.10 C493.53,257.28 495.70,257.43 498.40,257.80 C501.10,258.17 504.62,259.00 507.30,259.30 C509.98,259.60 512.08,259.42 514.50,259.60 C516.92,259.78 519.37,260.22 521.80,260.40 C524.23,260.58 526.12,260.52 529.10,260.70 C532.08,260.88 537.93,261.37 539.70,261.50" stroke="#2f2fe6" stroke-width="1.3" opacity="1"/>
</g>
<rect x="480.40" y="167.00" width="56.20" height="17.50" fill="#fff" stroke="#cfcfcf" stroke-width="0.9"/>
<line x1="482.00" y1="171.90" x2="495.10" y2="171.90" stroke="#2f2fe6" stroke-width="1.0" opacity="0.8"/>
<text x="496.40" y="174.60" class="lg">Trifocal</text>
<line x1="482.00" y1="180.10" x2="495.10" y2="180.10" stroke="#e8262e" stroke-width="1.0" opacity="0.8"/>
<text x="496.40" y="182.80" class="lg">Mono+AddOn</text>
</svg>
</body></html>
